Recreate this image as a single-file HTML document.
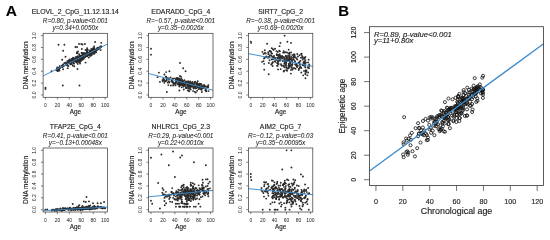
<!DOCTYPE html>
<html><head><meta charset="utf-8"><style>
html,body{margin:0;padding:0;background:#fff;width:550px;height:235px;overflow:hidden;}
svg{display:block;font-family:"Liberation Sans", sans-serif;filter:blur(0.3px);}
</style></head><body>
<svg width="550" height="235" viewBox="0 0 550 235" font-family='"Liberation Sans", sans-serif'><style>text{stroke:#1a1a1a;stroke-width:0.14px;} text.it{stroke-width:0.06px;} text.tk{stroke-width:0px;}</style><text x="75.3" y="13.8" font-size="6.85" text-anchor="middle" fill="#1a1a1a">ELOVL_2_CpG_11.12.13.14</text>
<text x="75.3" y="23.2" class="it" font-size="6.4" font-style="italic" text-anchor="middle" fill="#1a1a1a">R=0.80, p-value&lt;0.001</text>
<text x="75.3" y="30" class="it" font-size="6.4" font-style="italic" text-anchor="middle" fill="#1a1a1a">y=0.34+0.0050x</text>
<clipPath id="c00"><rect x="43.1" y="33.3" width="64.4" height="64"/></clipPath>
<g fill="#2a2a2a" stroke="none" clip-path="url(#c00)">
<circle cx="63.14" cy="69.24" r="0.95"/>
<circle cx="91.68" cy="54.46" r="0.95"/>
<circle cx="87.27" cy="53.39" r="0.95"/>
<circle cx="79.52" cy="55.19" r="0.95"/>
<circle cx="76.13" cy="61.33" r="0.95"/>
<circle cx="60.38" cy="67.67" r="0.95"/>
<circle cx="84.9" cy="54.64" r="0.95"/>
<circle cx="85.03" cy="57.18" r="0.95"/>
<circle cx="79.52" cy="62.02" r="0.95"/>
<circle cx="66.16" cy="64.62" r="0.95"/>
<circle cx="95.63" cy="52.12" r="0.95"/>
<circle cx="62.84" cy="65.84" r="0.95"/>
<circle cx="70.38" cy="63.97" r="0.95"/>
<circle cx="95.87" cy="50.35" r="0.95"/>
<circle cx="82.92" cy="55.6" r="0.95"/>
<circle cx="76.26" cy="60.06" r="0.95"/>
<circle cx="58.96" cy="70.3" r="0.95"/>
<circle cx="87.46" cy="55.75" r="0.95"/>
<circle cx="90.07" cy="53.8" r="0.95"/>
<circle cx="83.1" cy="54.88" r="0.95"/>
<circle cx="78.81" cy="58.42" r="0.95"/>
<circle cx="96.17" cy="52.16" r="0.95"/>
<circle cx="82.59" cy="59.55" r="0.95"/>
<circle cx="91.92" cy="51.92" r="0.95"/>
<circle cx="101.22" cy="42.86" r="0.95"/>
<circle cx="75.42" cy="58.14" r="0.95"/>
<circle cx="74.2" cy="60.53" r="0.95"/>
<circle cx="78.67" cy="58.71" r="0.95"/>
<circle cx="86.9" cy="51.86" r="0.95"/>
<circle cx="68.87" cy="61.88" r="0.95"/>
<circle cx="88.14" cy="53.54" r="0.95"/>
<circle cx="76.04" cy="58.88" r="0.95"/>
<circle cx="68.77" cy="60.5" r="0.95"/>
<circle cx="87.08" cy="53.1" r="0.95"/>
<circle cx="81.64" cy="52.59" r="0.95"/>
<circle cx="80.7" cy="57.43" r="0.95"/>
<circle cx="97.44" cy="48.01" r="0.95"/>
<circle cx="73.93" cy="58.96" r="0.95"/>
<circle cx="82.43" cy="57.34" r="0.95"/>
<circle cx="77.42" cy="61.49" r="0.95"/>
<circle cx="61.59" cy="65.76" r="0.95"/>
<circle cx="91.49" cy="54.47" r="0.95"/>
<circle cx="67.59" cy="63.33" r="0.95"/>
<circle cx="85.25" cy="53.94" r="0.95"/>
<circle cx="80.76" cy="57.35" r="0.95"/>
<circle cx="93.71" cy="48.97" r="0.95"/>
<circle cx="73.46" cy="63.11" r="0.95"/>
<circle cx="75.29" cy="60.81" r="0.95"/>
<circle cx="97.61" cy="48.18" r="0.95"/>
<circle cx="64.31" cy="63.15" r="0.95"/>
<circle cx="66.93" cy="63.9" r="0.95"/>
<circle cx="70.08" cy="63.39" r="0.95"/>
<circle cx="83" cy="54.24" r="0.95"/>
<circle cx="83.75" cy="58.7" r="0.95"/>
<circle cx="65.52" cy="56.81" r="0.95"/>
<circle cx="75.29" cy="59.83" r="0.95"/>
<circle cx="74.45" cy="59.08" r="0.95"/>
<circle cx="97.52" cy="49.74" r="0.95"/>
<circle cx="75.21" cy="60.07" r="0.95"/>
<circle cx="85.34" cy="54.25" r="0.95"/>
<circle cx="75.66" cy="60.65" r="0.95"/>
<circle cx="85.34" cy="53.48" r="0.95"/>
<circle cx="59.31" cy="67.86" r="0.95"/>
<circle cx="63.67" cy="65.58" r="0.95"/>
<circle cx="58.63" cy="68.27" r="0.95"/>
<circle cx="63.16" cy="66.42" r="0.95"/>
<circle cx="72.91" cy="58.5" r="0.95"/>
<circle cx="96.36" cy="50.42" r="0.95"/>
<circle cx="86.57" cy="50.24" r="0.95"/>
<circle cx="72.94" cy="61.76" r="0.95"/>
<circle cx="95.2" cy="51.89" r="0.95"/>
<circle cx="87.8" cy="53.72" r="0.95"/>
<circle cx="79.78" cy="61.99" r="0.95"/>
<circle cx="71.95" cy="60.64" r="0.95"/>
<circle cx="94.28" cy="50.64" r="0.95"/>
<circle cx="57.28" cy="67.53" r="0.95"/>
<circle cx="83.38" cy="56.75" r="0.95"/>
<circle cx="88.92" cy="57.57" r="0.95"/>
<circle cx="80.47" cy="57.53" r="0.95"/>
<circle cx="90.78" cy="52.81" r="0.95"/>
<circle cx="81.05" cy="60.7" r="0.95"/>
<circle cx="77.36" cy="59.97" r="0.95"/>
<circle cx="91.66" cy="50.76" r="0.95"/>
<circle cx="84.31" cy="54.75" r="0.95"/>
<circle cx="93.48" cy="50.67" r="0.95"/>
<circle cx="76.23" cy="59.37" r="0.95"/>
<circle cx="87.99" cy="53.77" r="0.95"/>
<circle cx="69.61" cy="59.43" r="0.95"/>
<circle cx="79.99" cy="58.39" r="0.95"/>
<circle cx="84.87" cy="54.82" r="0.95"/>
<circle cx="68.12" cy="63.43" r="0.95"/>
<circle cx="83.39" cy="57.47" r="0.95"/>
<circle cx="65.82" cy="64.55" r="0.95"/>
<circle cx="88.99" cy="54.82" r="0.95"/>
<circle cx="79.44" cy="60.83" r="0.95"/>
<circle cx="65.25" cy="62.79" r="0.95"/>
<circle cx="84.87" cy="53.16" r="0.95"/>
<circle cx="87.16" cy="56.4" r="0.95"/>
<circle cx="71.87" cy="59.88" r="0.95"/>
<circle cx="84.5" cy="55.66" r="0.95"/>
<circle cx="86.55" cy="53.65" r="0.95"/>
<circle cx="85.65" cy="55.94" r="0.95"/>
<circle cx="70.41" cy="61.11" r="0.95"/>
<circle cx="92.45" cy="51.36" r="0.95"/>
<circle cx="92.99" cy="48.26" r="0.95"/>
<circle cx="76.82" cy="57.89" r="0.95"/>
<circle cx="87.83" cy="52.83" r="0.95"/>
<circle cx="85" cy="55.01" r="0.95"/>
<circle cx="97.76" cy="49.36" r="0.95"/>
<circle cx="86.59" cy="50.52" r="0.95"/>
<circle cx="94.17" cy="46.45" r="0.95"/>
<circle cx="79.09" cy="60.86" r="0.95"/>
<circle cx="77.04" cy="56.83" r="0.95"/>
<circle cx="56.87" cy="68.67" r="0.95"/>
<circle cx="77.46" cy="69.05" r="0.95"/>
<circle cx="75.39" cy="61.12" r="0.95"/>
<circle cx="93.09" cy="52.27" r="0.95"/>
<circle cx="67.78" cy="63.09" r="0.95"/>
<circle cx="67.26" cy="62.95" r="0.95"/>
<circle cx="72.59" cy="61.53" r="0.95"/>
<circle cx="75.46" cy="59.93" r="0.95"/>
<circle cx="98" cy="48.37" r="0.95"/>
<circle cx="73.15" cy="59.92" r="0.95"/>
<circle cx="85.72" cy="55.7" r="0.95"/>
<circle cx="91.01" cy="52.91" r="0.95"/>
<circle cx="78.53" cy="61.07" r="0.95"/>
<circle cx="91.34" cy="54.13" r="0.95"/>
<circle cx="56.4" cy="70.27" r="0.95"/>
<circle cx="84.03" cy="57.64" r="0.95"/>
<circle cx="77.96" cy="57.47" r="0.95"/>
<circle cx="76.6" cy="60.07" r="0.95"/>
<circle cx="80.66" cy="60.67" r="0.95"/>
<circle cx="83.84" cy="54.24" r="0.95"/>
<circle cx="79.46" cy="57.26" r="0.95"/>
<circle cx="68.93" cy="60.71" r="0.95"/>
<circle cx="73.11" cy="57.8" r="0.95"/>
<circle cx="82.57" cy="57.73" r="0.95"/>
<circle cx="73.05" cy="59.92" r="0.95"/>
<circle cx="86.78" cy="55.89" r="0.95"/>
<circle cx="80.06" cy="63.53" r="0.95"/>
<circle cx="75.09" cy="61.18" r="0.95"/>
<circle cx="94.27" cy="53.71" r="0.95"/>
<circle cx="78.73" cy="59.75" r="0.95"/>
<circle cx="82.45" cy="57.75" r="0.95"/>
<circle cx="92.96" cy="49.38" r="0.95"/>
<circle cx="85.62" cy="62.62" r="0.95"/>
<circle cx="86.05" cy="54.73" r="0.95"/>
<circle cx="67.27" cy="61.28" r="0.95"/>
<circle cx="86.96" cy="51.43" r="0.95"/>
<circle cx="86.63" cy="50.8" r="0.95"/>
<circle cx="80.35" cy="56.42" r="0.95"/>
<circle cx="93.05" cy="53.86" r="0.95"/>
<circle cx="95.61" cy="52.45" r="0.95"/>
<circle cx="99.95" cy="47.7" r="0.95"/>
<circle cx="59.63" cy="66.27" r="0.95"/>
<circle cx="84.93" cy="54.97" r="0.95"/>
<circle cx="76.03" cy="58.76" r="0.95"/>
<circle cx="80.33" cy="58.44" r="0.95"/>
<circle cx="89.38" cy="52.66" r="0.95"/>
<circle cx="81.66" cy="56.69" r="0.95"/>
<circle cx="87.39" cy="54.57" r="0.95"/>
<circle cx="71.44" cy="58.89" r="0.95"/>
<circle cx="80.23" cy="55.93" r="0.95"/>
<circle cx="82.83" cy="58.89" r="0.95"/>
<circle cx="86.64" cy="55.4" r="0.95"/>
<circle cx="58.04" cy="70.47" r="0.95"/>
<circle cx="82.41" cy="57.66" r="0.95"/>
<circle cx="62.17" cy="67.15" r="0.95"/>
<circle cx="95.22" cy="50.22" r="0.95"/>
<circle cx="63.08" cy="66.06" r="0.95"/>
<circle cx="75.48" cy="57.17" r="0.95"/>
<circle cx="82.02" cy="56.06" r="0.95"/>
<circle cx="87.82" cy="49.8" r="0.95"/>
<circle cx="79.86" cy="59.65" r="0.95"/>
<circle cx="99.3" cy="48.01" r="0.95"/>
<circle cx="84.09" cy="53.45" r="0.95"/>
<circle cx="79.98" cy="56.44" r="0.95"/>
<circle cx="95.83" cy="49.69" r="0.95"/>
<circle cx="77.82" cy="63.9" r="0.95"/>
<circle cx="91.39" cy="55.41" r="0.95"/>
<circle cx="62.15" cy="59.73" r="0.95"/>
<circle cx="83.32" cy="53.39" r="0.95"/>
<circle cx="58.53" cy="68.67" r="0.95"/>
<circle cx="70.54" cy="60.57" r="0.95"/>
<circle cx="91.09" cy="52.65" r="0.95"/>
<circle cx="79.18" cy="56.74" r="0.95"/>
<circle cx="72.15" cy="59.13" r="0.95"/>
<circle cx="67.72" cy="68.16" r="0.95"/>
<circle cx="89.88" cy="50.61" r="0.95"/>
<circle cx="86.77" cy="55.07" r="0.95"/>
<circle cx="78.02" cy="51.38" r="0.95"/>
<circle cx="94.3" cy="49.76" r="0.95"/>
<circle cx="91.93" cy="52.59" r="0.95"/>
<circle cx="86.98" cy="54.66" r="0.95"/>
<circle cx="76.37" cy="59.29" r="0.95"/>
<circle cx="90.11" cy="50.43" r="0.95"/>
<circle cx="82.27" cy="57.84" r="0.95"/>
<circle cx="77.87" cy="58.8" r="0.95"/>
<circle cx="58.72" cy="69.36" r="0.95"/>
<circle cx="59.47" cy="70.43" r="0.95"/>
<circle cx="77.1" cy="56.58" r="0.95"/>
<circle cx="63.71" cy="65.4" r="0.95"/>
<circle cx="94.85" cy="51.11" r="0.95"/>
<circle cx="80.03" cy="60.41" r="0.95"/>
<circle cx="69.67" cy="61.1" r="0.95"/>
<circle cx="77.51" cy="60.65" r="0.95"/>
<circle cx="76.69" cy="60.36" r="0.95"/>
<circle cx="100.38" cy="46.5" r="0.95"/>
<circle cx="77.5" cy="53.04" r="0.95"/>
<circle cx="81.36" cy="57.31" r="0.95"/>
<circle cx="72.59" cy="59.07" r="0.95"/>
<circle cx="73.74" cy="61.83" r="0.95"/>
<circle cx="77.86" cy="62.07" r="0.95"/>
<circle cx="82.96" cy="53.06" r="0.95"/>
<circle cx="68.35" cy="61.73" r="0.95"/>
<circle cx="74.56" cy="59.88" r="0.95"/>
<circle cx="57.25" cy="69.81" r="0.95"/>
<circle cx="66.91" cy="64.31" r="0.95"/>
<circle cx="70.35" cy="62.7" r="0.95"/>
<circle cx="80.7" cy="59.43" r="0.95"/>
<circle cx="88.64" cy="52.65" r="0.95"/>
<circle cx="101.43" cy="46.57" r="0.95"/>
<circle cx="89.47" cy="50.84" r="0.95"/>
<circle cx="77.75" cy="56.19" r="0.95"/>
<circle cx="94.57" cy="51.89" r="0.95"/>
<circle cx="74.26" cy="66.2" r="0.95"/>
<circle cx="74" cy="63.65" r="0.95"/>
<circle cx="80.27" cy="57.82" r="0.95"/>
<circle cx="90.18" cy="52.6" r="0.95"/>
<circle cx="70.99" cy="63.91" r="0.95"/>
<circle cx="92.24" cy="49.78" r="0.95"/>
<circle cx="75.73" cy="60.19" r="0.95"/>
<circle cx="57.65" cy="70.37" r="0.95"/>
<circle cx="72.78" cy="65.67" r="0.95"/>
<circle cx="94.6" cy="51.03" r="0.95"/>
<circle cx="75.5" cy="60.05" r="0.95"/>
<circle cx="75.23" cy="60.57" r="0.95"/>
<circle cx="96.91" cy="48.78" r="0.95"/>
<circle cx="83.34" cy="55.34" r="0.95"/>
<circle cx="71.95" cy="63.98" r="0.95"/>
<circle cx="90.05" cy="55.47" r="0.95"/>
<circle cx="59.64" cy="68.22" r="0.95"/>
<circle cx="89.71" cy="52.57" r="0.95"/>
<circle cx="90.19" cy="52.91" r="0.95"/>
<circle cx="80.56" cy="57.85" r="0.95"/>
<circle cx="76.5" cy="62.52" r="0.95"/>
<circle cx="89.01" cy="52.82" r="0.95"/>
<circle cx="74.8" cy="59.49" r="0.95"/>
<circle cx="62.99" cy="64.53" r="0.95"/>
<circle cx="90.34" cy="52.79" r="0.95"/>
<circle cx="82.29" cy="59.53" r="0.95"/>
<circle cx="59" cy="68.59" r="0.95"/>
<circle cx="87.07" cy="52.17" r="0.95"/>
<circle cx="75.59" cy="61.5" r="0.95"/>
<circle cx="80.68" cy="57.79" r="0.95"/>
<circle cx="92.09" cy="51.17" r="0.95"/>
<circle cx="95.12" cy="42.05" r="0.95"/>
<circle cx="101.13" cy="47.17" r="0.95"/>
<circle cx="94.17" cy="47.96" r="0.95"/>
<circle cx="77.29" cy="60.97" r="0.95"/>
<circle cx="91.35" cy="49.04" r="0.95"/>
<circle cx="65.85" cy="62.86" r="0.95"/>
<circle cx="81.37" cy="58.63" r="0.95"/>
<circle cx="82.92" cy="54.49" r="0.95"/>
<circle cx="80.28" cy="58.05" r="0.95"/>
<circle cx="92.71" cy="50.42" r="0.95"/>
<circle cx="93.68" cy="52.62" r="0.95"/>
<circle cx="81.43" cy="57.65" r="0.95"/>
<circle cx="77.67" cy="57.94" r="0.95"/>
<circle cx="83.7" cy="54.12" r="0.95"/>
<circle cx="83.15" cy="57.59" r="0.95"/>
<circle cx="81.68" cy="53.65" r="0.95"/>
<circle cx="70.73" cy="64.18" r="0.95"/>
<circle cx="87.1" cy="48.25" r="0.95"/>
<circle cx="90.69" cy="51.91" r="0.95"/>
<circle cx="95.96" cy="50.05" r="0.95"/>
<circle cx="95.18" cy="51.04" r="0.95"/>
<circle cx="81.2" cy="55.98" r="0.95"/>
<circle cx="90.3" cy="55.81" r="0.95"/>
<circle cx="76.84" cy="53.29" r="0.95"/>
<circle cx="79.15" cy="61.26" r="0.95"/>
<circle cx="58.43" cy="68.09" r="0.95"/>
<circle cx="94.54" cy="48.76" r="0.95"/>
<circle cx="99.18" cy="47.44" r="0.95"/>
<circle cx="68.42" cy="66.01" r="0.95"/>
<circle cx="85.82" cy="55.23" r="0.95"/>
<circle cx="90.02" cy="51.1" r="0.95"/>
<circle cx="87.21" cy="53.91" r="0.95"/>
<circle cx="72.93" cy="59.95" r="0.95"/>
<circle cx="71.28" cy="62.4" r="0.95"/>
<circle cx="89.84" cy="51.59" r="0.95"/>
<circle cx="79.29" cy="60.25" r="0.95"/>
<circle cx="79.13" cy="54.22" r="0.95"/>
<circle cx="98.77" cy="48.93" r="0.95"/>
<circle cx="77.9" cy="59.27" r="0.95"/>
<circle cx="69.89" cy="62.71" r="0.95"/>
<circle cx="78.03" cy="60.53" r="0.95"/>
<circle cx="82.33" cy="56.03" r="0.95"/>
<circle cx="81.81" cy="48.95" r="0.95"/>
<circle cx="94.35" cy="50.75" r="0.95"/>
<circle cx="63.64" cy="65.98" r="0.95"/>
<circle cx="97.82" cy="48.91" r="0.95"/>
<circle cx="86.21" cy="54.86" r="0.95"/>
<circle cx="99.62" cy="47.85" r="0.95"/>
<circle cx="86.29" cy="55.89" r="0.95"/>
<circle cx="71.92" cy="61.26" r="0.95"/>
<circle cx="67.2" cy="65.49" r="0.95"/>
<circle cx="82.37" cy="56.14" r="0.95"/>
<circle cx="86.95" cy="51.79" r="0.95"/>
<circle cx="76.21" cy="60.92" r="0.95"/>
<circle cx="87.23" cy="54.89" r="0.95"/>
<circle cx="81.59" cy="56.56" r="0.95"/>
<circle cx="100.65" cy="50.1" r="0.95"/>
<circle cx="79.33" cy="61.21" r="0.95"/>
<circle cx="85.41" cy="49.87" r="0.95"/>
<circle cx="84.36" cy="54.57" r="0.95"/>
<circle cx="74.57" cy="60.43" r="0.95"/>
<circle cx="89.08" cy="55.15" r="0.95"/>
<circle cx="92.2" cy="51.88" r="0.95"/>
<circle cx="57.7" cy="71.13" r="0.95"/>
<circle cx="45.49" cy="87.82" r="0.95"/>
<circle cx="45.49" cy="89" r="0.95"/>
<circle cx="62.78" cy="85.45" r="0.95"/>
<circle cx="79.47" cy="85.45" r="0.95"/>
<circle cx="58.48" cy="44.68" r="0.95"/>
<circle cx="64.39" cy="44.68" r="0.95"/>
<circle cx="63.14" cy="50.78" r="0.95"/>
<circle cx="75.42" cy="46.93" r="0.95"/>
<circle cx="77.03" cy="46.93" r="0.95"/>
<circle cx="77.03" cy="52.26" r="0.95"/>
<circle cx="79" cy="43.97" r="0.95"/>
<circle cx="51.45" cy="71.23" r="0.95"/>
<circle cx="81.26" cy="43.97" r="0.95"/>
<circle cx="82.46" cy="44.56" r="0.95"/>
<circle cx="84.84" cy="43.97" r="0.95"/>
</g>
<line x1="43.1" y1="75.97" x2="107.5" y2="43.97" stroke="#3b8bcc" stroke-width="0.95" clip-path="url(#c00)"/>
<rect x="43.1" y="33.3" width="64.4" height="64" fill="none" stroke="#333" stroke-width="0.7"/>
<line x1="40.9" y1="94.93" x2="43.1" y2="94.93" stroke="#333" stroke-width="0.6"/>
<text transform="translate(36.4,94.93) rotate(-90)" class="tk" font-size="5.0" text-anchor="middle" fill="#1a1a1a">0.0</text>
<line x1="40.9" y1="83.08" x2="43.1" y2="83.08" stroke="#333" stroke-width="0.6"/>
<text transform="translate(36.4,83.08) rotate(-90)" class="tk" font-size="5.0" text-anchor="middle" fill="#1a1a1a">0.2</text>
<line x1="40.9" y1="71.23" x2="43.1" y2="71.23" stroke="#333" stroke-width="0.6"/>
<text transform="translate(36.4,71.23) rotate(-90)" class="tk" font-size="5.0" text-anchor="middle" fill="#1a1a1a">0.4</text>
<line x1="40.9" y1="59.37" x2="43.1" y2="59.37" stroke="#333" stroke-width="0.6"/>
<text transform="translate(36.4,59.37) rotate(-90)" class="tk" font-size="5.0" text-anchor="middle" fill="#1a1a1a">0.6</text>
<line x1="40.9" y1="47.52" x2="43.1" y2="47.52" stroke="#333" stroke-width="0.6"/>
<text transform="translate(36.4,47.52) rotate(-90)" class="tk" font-size="5.0" text-anchor="middle" fill="#1a1a1a">0.8</text>
<line x1="40.9" y1="35.67" x2="43.1" y2="35.67" stroke="#333" stroke-width="0.6"/>
<text transform="translate(36.4,35.67) rotate(-90)" class="tk" font-size="5.0" text-anchor="middle" fill="#1a1a1a">1.0</text>
<line x1="45.49" y1="97.3" x2="45.49" y2="99.5" stroke="#333" stroke-width="0.6"/>
<text x="45.49" y="107.3" class="tk" font-size="5.0" text-anchor="middle" fill="#1a1a1a">0</text>
<line x1="57.41" y1="97.3" x2="57.41" y2="99.5" stroke="#333" stroke-width="0.6"/>
<text x="57.41" y="107.3" class="tk" font-size="5.0" text-anchor="middle" fill="#1a1a1a">20</text>
<line x1="69.34" y1="97.3" x2="69.34" y2="99.5" stroke="#333" stroke-width="0.6"/>
<text x="69.34" y="107.3" class="tk" font-size="5.0" text-anchor="middle" fill="#1a1a1a">40</text>
<line x1="81.26" y1="97.3" x2="81.26" y2="99.5" stroke="#333" stroke-width="0.6"/>
<text x="81.26" y="107.3" class="tk" font-size="5.0" text-anchor="middle" fill="#1a1a1a">60</text>
<line x1="93.19" y1="97.3" x2="93.19" y2="99.5" stroke="#333" stroke-width="0.6"/>
<text x="93.19" y="107.3" class="tk" font-size="5.0" text-anchor="middle" fill="#1a1a1a">80</text>
<line x1="105.11" y1="97.3" x2="105.11" y2="99.5" stroke="#333" stroke-width="0.6"/>
<text x="105.11" y="107.3" class="tk" font-size="5.0" text-anchor="middle" fill="#1a1a1a">100</text>
<text x="75.3" y="114.2" font-size="6.3" text-anchor="middle" fill="#1a1a1a">Age</text>
<text transform="translate(28.4,65.3) rotate(-90)" font-size="6.45" text-anchor="middle" fill="#1a1a1a">DNA methylation</text>
<text x="180.8" y="13.8" font-size="6.85" text-anchor="middle" fill="#1a1a1a">EDARADD_CpG_4</text>
<text x="180.8" y="23.2" class="it" font-size="6.4" font-style="italic" text-anchor="middle" fill="#1a1a1a">R=−0.57, p-value&lt;0.001</text>
<text x="180.8" y="30" class="it" font-size="6.4" font-style="italic" text-anchor="middle" fill="#1a1a1a">y=0.35−0.0026x</text>
<clipPath id="c10"><rect x="148.6" y="33.3" width="64.4" height="64"/></clipPath>
<g fill="#2a2a2a" stroke="none" clip-path="url(#c10)">
<circle cx="190.46" cy="84.24" r="0.95"/>
<circle cx="175.92" cy="79.75" r="0.95"/>
<circle cx="185.67" cy="82.12" r="0.95"/>
<circle cx="182.87" cy="83.74" r="0.95"/>
<circle cx="183.48" cy="82.77" r="0.95"/>
<circle cx="188.42" cy="81.95" r="0.95"/>
<circle cx="172.34" cy="78.71" r="0.95"/>
<circle cx="190.12" cy="81.49" r="0.95"/>
<circle cx="173.9" cy="83.92" r="0.95"/>
<circle cx="207.05" cy="87.01" r="0.95"/>
<circle cx="199.16" cy="84.26" r="0.95"/>
<circle cx="179.09" cy="83.88" r="0.95"/>
<circle cx="184.37" cy="85.68" r="0.95"/>
<circle cx="189.25" cy="85.32" r="0.95"/>
<circle cx="162.76" cy="81.19" r="0.95"/>
<circle cx="195.37" cy="87.01" r="0.95"/>
<circle cx="178.24" cy="84.47" r="0.95"/>
<circle cx="198.46" cy="86.96" r="0.95"/>
<circle cx="189.22" cy="91.27" r="0.95"/>
<circle cx="183.1" cy="82.09" r="0.95"/>
<circle cx="188.36" cy="83.24" r="0.95"/>
<circle cx="196.39" cy="84.19" r="0.95"/>
<circle cx="194.32" cy="85.26" r="0.95"/>
<circle cx="205.54" cy="86.35" r="0.95"/>
<circle cx="180.03" cy="85.53" r="0.95"/>
<circle cx="173.55" cy="84.94" r="0.95"/>
<circle cx="196.74" cy="84.82" r="0.95"/>
<circle cx="194.43" cy="82.16" r="0.95"/>
<circle cx="186.29" cy="87.71" r="0.95"/>
<circle cx="208.37" cy="85.1" r="0.95"/>
<circle cx="197.13" cy="90.82" r="0.95"/>
<circle cx="180.15" cy="79.73" r="0.95"/>
<circle cx="179.31" cy="80.08" r="0.95"/>
<circle cx="190.15" cy="84.94" r="0.95"/>
<circle cx="201.51" cy="88.2" r="0.95"/>
<circle cx="197.9" cy="86.54" r="0.95"/>
<circle cx="170.82" cy="85.55" r="0.95"/>
<circle cx="177.57" cy="78.32" r="0.95"/>
<circle cx="183.77" cy="84.49" r="0.95"/>
<circle cx="198.46" cy="86.91" r="0.95"/>
<circle cx="190.75" cy="89.51" r="0.95"/>
<circle cx="192.44" cy="81.93" r="0.95"/>
<circle cx="189.7" cy="83.62" r="0.95"/>
<circle cx="181.9" cy="82.18" r="0.95"/>
<circle cx="168.91" cy="81.26" r="0.95"/>
<circle cx="200.72" cy="89.23" r="0.95"/>
<circle cx="181.75" cy="87.37" r="0.95"/>
<circle cx="197.08" cy="83" r="0.95"/>
<circle cx="190.37" cy="85.62" r="0.95"/>
<circle cx="180.2" cy="80.88" r="0.95"/>
<circle cx="196.63" cy="85.41" r="0.95"/>
<circle cx="203.11" cy="87.99" r="0.95"/>
<circle cx="190.89" cy="83.89" r="0.95"/>
<circle cx="202.01" cy="87.16" r="0.95"/>
<circle cx="203.3" cy="85.79" r="0.95"/>
<circle cx="185.74" cy="82.03" r="0.95"/>
<circle cx="189.74" cy="85.72" r="0.95"/>
<circle cx="169.47" cy="78.91" r="0.95"/>
<circle cx="177.44" cy="80.04" r="0.95"/>
<circle cx="179.36" cy="86.62" r="0.95"/>
<circle cx="165.27" cy="81.19" r="0.95"/>
<circle cx="178.95" cy="84.86" r="0.95"/>
<circle cx="199.81" cy="88.39" r="0.95"/>
<circle cx="193.3" cy="84.09" r="0.95"/>
<circle cx="183.83" cy="82.39" r="0.95"/>
<circle cx="181.54" cy="81.44" r="0.95"/>
<circle cx="184.38" cy="83.08" r="0.95"/>
<circle cx="182.75" cy="84.56" r="0.95"/>
<circle cx="188.25" cy="84.19" r="0.95"/>
<circle cx="192.62" cy="86.36" r="0.95"/>
<circle cx="167.73" cy="78.57" r="0.95"/>
<circle cx="179.93" cy="76" r="0.95"/>
<circle cx="164.06" cy="80.09" r="0.95"/>
<circle cx="200.44" cy="83.95" r="0.95"/>
<circle cx="197.64" cy="87.09" r="0.95"/>
<circle cx="182.07" cy="84.74" r="0.95"/>
<circle cx="199.42" cy="86.16" r="0.95"/>
<circle cx="197.65" cy="81.21" r="0.95"/>
<circle cx="181.58" cy="84.88" r="0.95"/>
<circle cx="194.42" cy="86.82" r="0.95"/>
<circle cx="195.17" cy="87.41" r="0.95"/>
<circle cx="176.72" cy="78.24" r="0.95"/>
<circle cx="193" cy="84.8" r="0.95"/>
<circle cx="188.82" cy="83.34" r="0.95"/>
<circle cx="166.06" cy="77.04" r="0.95"/>
<circle cx="207.92" cy="86.43" r="0.95"/>
<circle cx="170.47" cy="77.4" r="0.95"/>
<circle cx="162.45" cy="80.13" r="0.95"/>
<circle cx="208.2" cy="87.18" r="0.95"/>
<circle cx="167.79" cy="82.53" r="0.95"/>
<circle cx="189.44" cy="82.59" r="0.95"/>
<circle cx="184.23" cy="83.71" r="0.95"/>
<circle cx="171.96" cy="80.64" r="0.95"/>
<circle cx="183.42" cy="82.02" r="0.95"/>
<circle cx="189.39" cy="88.14" r="0.95"/>
<circle cx="188.06" cy="87.31" r="0.95"/>
<circle cx="182.35" cy="83.29" r="0.95"/>
<circle cx="179.72" cy="83.71" r="0.95"/>
<circle cx="182.39" cy="83.87" r="0.95"/>
<circle cx="183.77" cy="89.54" r="0.95"/>
<circle cx="178.66" cy="78.82" r="0.95"/>
<circle cx="198.68" cy="89.14" r="0.95"/>
<circle cx="179.2" cy="82.19" r="0.95"/>
<circle cx="177.36" cy="77.99" r="0.95"/>
<circle cx="190.04" cy="88.84" r="0.95"/>
<circle cx="179.46" cy="83.54" r="0.95"/>
<circle cx="177.56" cy="79.02" r="0.95"/>
<circle cx="174.34" cy="83.14" r="0.95"/>
<circle cx="199.09" cy="84.55" r="0.95"/>
<circle cx="202.69" cy="86.26" r="0.95"/>
<circle cx="193.97" cy="86.5" r="0.95"/>
<circle cx="179.81" cy="84.9" r="0.95"/>
<circle cx="189.1" cy="85.58" r="0.95"/>
<circle cx="183.03" cy="85.58" r="0.95"/>
<circle cx="197.1" cy="83.96" r="0.95"/>
<circle cx="179.01" cy="78.47" r="0.95"/>
<circle cx="201.81" cy="92.05" r="0.95"/>
<circle cx="176.84" cy="81.98" r="0.95"/>
<circle cx="187.74" cy="85.23" r="0.95"/>
<circle cx="188.94" cy="85.59" r="0.95"/>
<circle cx="173.32" cy="78.64" r="0.95"/>
<circle cx="183.41" cy="84.8" r="0.95"/>
<circle cx="189.85" cy="86.47" r="0.95"/>
<circle cx="192.7" cy="83.93" r="0.95"/>
<circle cx="204.16" cy="87.45" r="0.95"/>
<circle cx="201.41" cy="84.18" r="0.95"/>
<circle cx="207.11" cy="86.53" r="0.95"/>
<circle cx="208.57" cy="91.12" r="0.95"/>
<circle cx="187.98" cy="83.04" r="0.95"/>
<circle cx="175.92" cy="80.98" r="0.95"/>
<circle cx="187.47" cy="83.42" r="0.95"/>
<circle cx="165.95" cy="76.53" r="0.95"/>
<circle cx="199.61" cy="83.76" r="0.95"/>
<circle cx="206.25" cy="91.23" r="0.95"/>
<circle cx="164.51" cy="80.19" r="0.95"/>
<circle cx="187.31" cy="83.92" r="0.95"/>
<circle cx="164.35" cy="74.46" r="0.95"/>
<circle cx="184.58" cy="84.65" r="0.95"/>
<circle cx="166.68" cy="80.78" r="0.95"/>
<circle cx="179.38" cy="90.48" r="0.95"/>
<circle cx="204.79" cy="86.09" r="0.95"/>
<circle cx="199.35" cy="86.71" r="0.95"/>
<circle cx="205.72" cy="89.2" r="0.95"/>
<circle cx="174.96" cy="78.34" r="0.95"/>
<circle cx="182.98" cy="80.84" r="0.95"/>
<circle cx="181.34" cy="80.23" r="0.95"/>
<circle cx="188.46" cy="85.36" r="0.95"/>
<circle cx="182.98" cy="83.38" r="0.95"/>
<circle cx="182.2" cy="84.16" r="0.95"/>
<circle cx="190.51" cy="81.84" r="0.95"/>
<circle cx="184.85" cy="83.58" r="0.95"/>
<circle cx="176.21" cy="82.83" r="0.95"/>
<circle cx="205.3" cy="90.36" r="0.95"/>
<circle cx="182.12" cy="81.22" r="0.95"/>
<circle cx="195.54" cy="88.2" r="0.95"/>
<circle cx="186.24" cy="82.23" r="0.95"/>
<circle cx="182.2" cy="79.94" r="0.95"/>
<circle cx="188.29" cy="86.44" r="0.95"/>
<circle cx="188.35" cy="88.59" r="0.95"/>
<circle cx="172" cy="81.79" r="0.95"/>
<circle cx="188.59" cy="90.37" r="0.95"/>
<circle cx="193.1" cy="87.03" r="0.95"/>
<circle cx="190.01" cy="85.57" r="0.95"/>
<circle cx="195.06" cy="81.82" r="0.95"/>
<circle cx="184.37" cy="80.27" r="0.95"/>
<circle cx="178.51" cy="81.72" r="0.95"/>
<circle cx="201.38" cy="84.75" r="0.95"/>
<circle cx="188.32" cy="84.2" r="0.95"/>
<circle cx="183.51" cy="83.06" r="0.95"/>
<circle cx="163.45" cy="78.44" r="0.95"/>
<circle cx="178.5" cy="79.85" r="0.95"/>
<circle cx="178.86" cy="83.66" r="0.95"/>
<circle cx="198.42" cy="85.68" r="0.95"/>
<circle cx="179.89" cy="84.49" r="0.95"/>
<circle cx="185.9" cy="88.09" r="0.95"/>
<circle cx="173.19" cy="82.87" r="0.95"/>
<circle cx="166.56" cy="79.11" r="0.95"/>
<circle cx="203.34" cy="87.36" r="0.95"/>
<circle cx="179.08" cy="83.34" r="0.95"/>
<circle cx="172.95" cy="82.53" r="0.95"/>
<circle cx="190.62" cy="87.17" r="0.95"/>
<circle cx="189.32" cy="83.44" r="0.95"/>
<circle cx="180.83" cy="85.04" r="0.95"/>
<circle cx="168.65" cy="78.78" r="0.95"/>
<circle cx="199.73" cy="85.87" r="0.95"/>
<circle cx="189.33" cy="85.37" r="0.95"/>
<circle cx="179.34" cy="83.16" r="0.95"/>
<circle cx="183.41" cy="86.64" r="0.95"/>
<circle cx="201.05" cy="86.48" r="0.95"/>
<circle cx="179.96" cy="79.8" r="0.95"/>
<circle cx="185.67" cy="83.93" r="0.95"/>
<circle cx="166.85" cy="92.07" r="0.95"/>
<circle cx="194.79" cy="82.79" r="0.95"/>
<circle cx="198.3" cy="87.46" r="0.95"/>
<circle cx="183.82" cy="85.34" r="0.95"/>
<circle cx="191.09" cy="85.36" r="0.95"/>
<circle cx="177.04" cy="79.26" r="0.95"/>
<circle cx="198.07" cy="85.89" r="0.95"/>
<circle cx="196.11" cy="86.15" r="0.95"/>
<circle cx="204.18" cy="84.88" r="0.95"/>
<circle cx="193.6" cy="88.56" r="0.95"/>
<circle cx="185.9" cy="85.35" r="0.95"/>
<circle cx="194.08" cy="84.25" r="0.95"/>
<circle cx="178.27" cy="79.25" r="0.95"/>
<circle cx="194.84" cy="87.22" r="0.95"/>
<circle cx="200.29" cy="87.14" r="0.95"/>
<circle cx="185.86" cy="86.9" r="0.95"/>
<circle cx="195.38" cy="88.27" r="0.95"/>
<circle cx="187.94" cy="85.82" r="0.95"/>
<circle cx="175.64" cy="85.19" r="0.95"/>
<circle cx="180.9" cy="76.75" r="0.95"/>
<circle cx="179.99" cy="82.85" r="0.95"/>
<circle cx="186.26" cy="82.43" r="0.95"/>
<circle cx="181.35" cy="78.4" r="0.95"/>
<circle cx="197.06" cy="86.09" r="0.95"/>
<circle cx="175.42" cy="83.84" r="0.95"/>
<circle cx="179.91" cy="83.74" r="0.95"/>
<circle cx="188.49" cy="85.74" r="0.95"/>
<circle cx="166.54" cy="78.31" r="0.95"/>
<circle cx="191.93" cy="83.29" r="0.95"/>
<circle cx="182.49" cy="84.24" r="0.95"/>
<circle cx="183.27" cy="82.27" r="0.95"/>
<circle cx="182.45" cy="82.69" r="0.95"/>
<circle cx="201.74" cy="89.79" r="0.95"/>
<circle cx="187.98" cy="81.3" r="0.95"/>
<circle cx="179.52" cy="80.34" r="0.95"/>
<circle cx="197.81" cy="85.33" r="0.95"/>
<circle cx="171.34" cy="81.22" r="0.95"/>
<circle cx="196.13" cy="85.61" r="0.95"/>
<circle cx="205.7" cy="88.5" r="0.95"/>
<circle cx="177.69" cy="84.05" r="0.95"/>
<circle cx="186.58" cy="88.01" r="0.95"/>
<circle cx="206.37" cy="91.01" r="0.95"/>
<circle cx="175.88" cy="82.72" r="0.95"/>
<circle cx="187.89" cy="90.55" r="0.95"/>
<circle cx="196.04" cy="83.02" r="0.95"/>
<circle cx="168.33" cy="85.1" r="0.95"/>
<circle cx="203.43" cy="86.46" r="0.95"/>
<circle cx="185.85" cy="81.36" r="0.95"/>
<circle cx="182.16" cy="81.9" r="0.95"/>
<circle cx="191.45" cy="85.96" r="0.95"/>
<circle cx="189.96" cy="86.33" r="0.95"/>
<circle cx="196.46" cy="88.14" r="0.95"/>
<circle cx="191.7" cy="82.95" r="0.95"/>
<circle cx="190.21" cy="83.43" r="0.95"/>
<circle cx="180.45" cy="84.41" r="0.95"/>
<circle cx="188.81" cy="82.28" r="0.95"/>
<circle cx="202.76" cy="87.82" r="0.95"/>
<circle cx="188.78" cy="84.57" r="0.95"/>
<circle cx="186.14" cy="83.34" r="0.95"/>
<circle cx="172.57" cy="81.51" r="0.95"/>
<circle cx="191.72" cy="85.75" r="0.95"/>
<circle cx="176.46" cy="81.29" r="0.95"/>
<circle cx="199.46" cy="86.68" r="0.95"/>
<circle cx="164.69" cy="80.9" r="0.95"/>
<circle cx="164.29" cy="82.86" r="0.95"/>
<circle cx="182.43" cy="84.16" r="0.95"/>
<circle cx="169.23" cy="82.48" r="0.95"/>
<circle cx="190.81" cy="86.33" r="0.95"/>
<circle cx="173.59" cy="82.61" r="0.95"/>
<circle cx="173.16" cy="85.47" r="0.95"/>
<circle cx="181.2" cy="82.23" r="0.95"/>
<circle cx="195.79" cy="92.52" r="0.95"/>
<circle cx="193.1" cy="91.1" r="0.95"/>
<circle cx="188.78" cy="85.49" r="0.95"/>
<circle cx="194.77" cy="91.84" r="0.95"/>
<circle cx="200.62" cy="86.49" r="0.95"/>
<circle cx="192.99" cy="83.8" r="0.95"/>
<circle cx="185.31" cy="84.09" r="0.95"/>
<circle cx="167.84" cy="78.31" r="0.95"/>
<circle cx="187.86" cy="84.09" r="0.95"/>
<circle cx="191.01" cy="86.52" r="0.95"/>
<circle cx="198.62" cy="87.13" r="0.95"/>
<circle cx="185.5" cy="83.14" r="0.95"/>
<circle cx="197.03" cy="85.11" r="0.95"/>
<circle cx="183.72" cy="83.36" r="0.95"/>
<circle cx="197.76" cy="85.96" r="0.95"/>
<circle cx="197.83" cy="83.69" r="0.95"/>
<circle cx="163.07" cy="79.86" r="0.95"/>
<circle cx="180.09" cy="82.11" r="0.95"/>
<circle cx="150.99" cy="48.71" r="0.95"/>
<circle cx="150.99" cy="54.63" r="0.95"/>
<circle cx="180.02" cy="62.93" r="0.95"/>
<circle cx="183.19" cy="68.26" r="0.95"/>
<circle cx="185.57" cy="71.23" r="0.95"/>
<circle cx="158.92" cy="72.59" r="0.95"/>
<circle cx="166.19" cy="72.11" r="0.95"/>
<circle cx="169.41" cy="71.23" r="0.95"/>
<circle cx="157.54" cy="77.15" r="0.95"/>
<circle cx="159.93" cy="81.89" r="0.95"/>
</g>
<line x1="148.6" y1="73.57" x2="213" y2="90.21" stroke="#3b8bcc" stroke-width="0.95" clip-path="url(#c10)"/>
<rect x="148.6" y="33.3" width="64.4" height="64" fill="none" stroke="#333" stroke-width="0.7"/>
<line x1="146.4" y1="94.93" x2="148.6" y2="94.93" stroke="#333" stroke-width="0.6"/>
<text transform="translate(141.9,94.93) rotate(-90)" class="tk" font-size="5.0" text-anchor="middle" fill="#1a1a1a">0.0</text>
<line x1="146.4" y1="83.08" x2="148.6" y2="83.08" stroke="#333" stroke-width="0.6"/>
<text transform="translate(141.9,83.08) rotate(-90)" class="tk" font-size="5.0" text-anchor="middle" fill="#1a1a1a">0.2</text>
<line x1="146.4" y1="71.23" x2="148.6" y2="71.23" stroke="#333" stroke-width="0.6"/>
<text transform="translate(141.9,71.23) rotate(-90)" class="tk" font-size="5.0" text-anchor="middle" fill="#1a1a1a">0.4</text>
<line x1="146.4" y1="59.37" x2="148.6" y2="59.37" stroke="#333" stroke-width="0.6"/>
<text transform="translate(141.9,59.37) rotate(-90)" class="tk" font-size="5.0" text-anchor="middle" fill="#1a1a1a">0.6</text>
<line x1="146.4" y1="47.52" x2="148.6" y2="47.52" stroke="#333" stroke-width="0.6"/>
<text transform="translate(141.9,47.52) rotate(-90)" class="tk" font-size="5.0" text-anchor="middle" fill="#1a1a1a">0.8</text>
<line x1="146.4" y1="35.67" x2="148.6" y2="35.67" stroke="#333" stroke-width="0.6"/>
<text transform="translate(141.9,35.67) rotate(-90)" class="tk" font-size="5.0" text-anchor="middle" fill="#1a1a1a">1.0</text>
<line x1="150.99" y1="97.3" x2="150.99" y2="99.5" stroke="#333" stroke-width="0.6"/>
<text x="150.99" y="107.3" class="tk" font-size="5.0" text-anchor="middle" fill="#1a1a1a">0</text>
<line x1="162.91" y1="97.3" x2="162.91" y2="99.5" stroke="#333" stroke-width="0.6"/>
<text x="162.91" y="107.3" class="tk" font-size="5.0" text-anchor="middle" fill="#1a1a1a">20</text>
<line x1="174.84" y1="97.3" x2="174.84" y2="99.5" stroke="#333" stroke-width="0.6"/>
<text x="174.84" y="107.3" class="tk" font-size="5.0" text-anchor="middle" fill="#1a1a1a">40</text>
<line x1="186.76" y1="97.3" x2="186.76" y2="99.5" stroke="#333" stroke-width="0.6"/>
<text x="186.76" y="107.3" class="tk" font-size="5.0" text-anchor="middle" fill="#1a1a1a">60</text>
<line x1="198.69" y1="97.3" x2="198.69" y2="99.5" stroke="#333" stroke-width="0.6"/>
<text x="198.69" y="107.3" class="tk" font-size="5.0" text-anchor="middle" fill="#1a1a1a">80</text>
<line x1="210.61" y1="97.3" x2="210.61" y2="99.5" stroke="#333" stroke-width="0.6"/>
<text x="210.61" y="107.3" class="tk" font-size="5.0" text-anchor="middle" fill="#1a1a1a">100</text>
<text x="180.8" y="114.2" font-size="6.3" text-anchor="middle" fill="#1a1a1a">Age</text>
<text transform="translate(133.9,65.3) rotate(-90)" font-size="6.45" text-anchor="middle" fill="#1a1a1a">DNA methylation</text>
<text x="280.6" y="13.8" font-size="6.85" text-anchor="middle" fill="#1a1a1a">SIRT7_CpG_2</text>
<text x="280.6" y="23.2" class="it" font-size="6.4" font-style="italic" text-anchor="middle" fill="#1a1a1a">R=−0.38, p-value&lt;0.001</text>
<text x="280.6" y="30" class="it" font-size="6.4" font-style="italic" text-anchor="middle" fill="#1a1a1a">y=0.69−0.0020x</text>
<clipPath id="c20"><rect x="248.4" y="33.3" width="64.4" height="64"/></clipPath>
<g fill="#2a2a2a" stroke="none" clip-path="url(#c20)">
<circle cx="304.62" cy="58" r="0.95"/>
<circle cx="296.5" cy="58.5" r="0.95"/>
<circle cx="292.31" cy="55.1" r="0.95"/>
<circle cx="302.74" cy="64.97" r="0.95"/>
<circle cx="288.43" cy="53.6" r="0.95"/>
<circle cx="305.36" cy="73.26" r="0.95"/>
<circle cx="278.32" cy="54.98" r="0.95"/>
<circle cx="288.86" cy="67.88" r="0.95"/>
<circle cx="282.21" cy="56.14" r="0.95"/>
<circle cx="271.21" cy="64.53" r="0.95"/>
<circle cx="294.48" cy="56.68" r="0.95"/>
<circle cx="279.13" cy="60.43" r="0.95"/>
<circle cx="288.69" cy="49.65" r="0.95"/>
<circle cx="302.69" cy="65.09" r="0.95"/>
<circle cx="309.22" cy="64.45" r="0.95"/>
<circle cx="297.37" cy="59.61" r="0.95"/>
<circle cx="286.12" cy="70.12" r="0.95"/>
<circle cx="304.02" cy="63.35" r="0.95"/>
<circle cx="294.09" cy="67.98" r="0.95"/>
<circle cx="295.62" cy="57.33" r="0.95"/>
<circle cx="289.15" cy="53.23" r="0.95"/>
<circle cx="292.39" cy="64.58" r="0.95"/>
<circle cx="298.72" cy="69.93" r="0.95"/>
<circle cx="305.72" cy="71.03" r="0.95"/>
<circle cx="302.73" cy="59.48" r="0.95"/>
<circle cx="287.17" cy="70.52" r="0.95"/>
<circle cx="308" cy="62.41" r="0.95"/>
<circle cx="305.01" cy="63.76" r="0.95"/>
<circle cx="296.63" cy="66.29" r="0.95"/>
<circle cx="269.57" cy="60.3" r="0.95"/>
<circle cx="289.66" cy="66.29" r="0.95"/>
<circle cx="277.72" cy="52.01" r="0.95"/>
<circle cx="283.88" cy="56.99" r="0.95"/>
<circle cx="269.68" cy="55.46" r="0.95"/>
<circle cx="272.71" cy="62.16" r="0.95"/>
<circle cx="286.83" cy="70.58" r="0.95"/>
<circle cx="285.45" cy="52.3" r="0.95"/>
<circle cx="282.05" cy="57.52" r="0.95"/>
<circle cx="262.47" cy="51.88" r="0.95"/>
<circle cx="280.3" cy="60.43" r="0.95"/>
<circle cx="284.77" cy="67.41" r="0.95"/>
<circle cx="281.96" cy="65.64" r="0.95"/>
<circle cx="294.21" cy="56.86" r="0.95"/>
<circle cx="296.73" cy="63.87" r="0.95"/>
<circle cx="304.54" cy="62.61" r="0.95"/>
<circle cx="278.39" cy="61.27" r="0.95"/>
<circle cx="305.34" cy="56.95" r="0.95"/>
<circle cx="271.78" cy="48.16" r="0.95"/>
<circle cx="298.52" cy="62.78" r="0.95"/>
<circle cx="269.97" cy="51.29" r="0.95"/>
<circle cx="264.81" cy="52.93" r="0.95"/>
<circle cx="285.79" cy="64.42" r="0.95"/>
<circle cx="288.07" cy="55.61" r="0.95"/>
<circle cx="262.02" cy="61.84" r="0.95"/>
<circle cx="278.04" cy="69.39" r="0.95"/>
<circle cx="276.9" cy="54.83" r="0.95"/>
<circle cx="284.68" cy="63.06" r="0.95"/>
<circle cx="297.76" cy="65.79" r="0.95"/>
<circle cx="276.7" cy="54.28" r="0.95"/>
<circle cx="307.93" cy="67.41" r="0.95"/>
<circle cx="279.9" cy="51.34" r="0.95"/>
<circle cx="268.34" cy="54.1" r="0.95"/>
<circle cx="277.64" cy="65.83" r="0.95"/>
<circle cx="290.51" cy="58.86" r="0.95"/>
<circle cx="287.4" cy="60.66" r="0.95"/>
<circle cx="273" cy="59.13" r="0.95"/>
<circle cx="267.06" cy="43.68" r="0.95"/>
<circle cx="300.04" cy="67.04" r="0.95"/>
<circle cx="290.15" cy="62.39" r="0.95"/>
<circle cx="286.21" cy="61.07" r="0.95"/>
<circle cx="292.35" cy="63.87" r="0.95"/>
<circle cx="278.19" cy="61.72" r="0.95"/>
<circle cx="297.12" cy="66.96" r="0.95"/>
<circle cx="309.22" cy="66.05" r="0.95"/>
<circle cx="263.51" cy="53.89" r="0.95"/>
<circle cx="291.55" cy="67.73" r="0.95"/>
<circle cx="271.88" cy="59.43" r="0.95"/>
<circle cx="295.49" cy="68.78" r="0.95"/>
<circle cx="286.62" cy="67.91" r="0.95"/>
<circle cx="284.27" cy="63.85" r="0.95"/>
<circle cx="280.68" cy="55.97" r="0.95"/>
<circle cx="289.81" cy="56.99" r="0.95"/>
<circle cx="304.87" cy="64.16" r="0.95"/>
<circle cx="295.94" cy="64.98" r="0.95"/>
<circle cx="299.9" cy="64.91" r="0.95"/>
<circle cx="272.07" cy="53.59" r="0.95"/>
<circle cx="305.76" cy="62.65" r="0.95"/>
<circle cx="276.93" cy="55.15" r="0.95"/>
<circle cx="286.11" cy="62.47" r="0.95"/>
<circle cx="269.74" cy="51.01" r="0.95"/>
<circle cx="275.36" cy="61.83" r="0.95"/>
<circle cx="290.91" cy="58.61" r="0.95"/>
<circle cx="289.55" cy="58.29" r="0.95"/>
<circle cx="301.21" cy="53.94" r="0.95"/>
<circle cx="285.79" cy="65.38" r="0.95"/>
<circle cx="268.86" cy="63.01" r="0.95"/>
<circle cx="266.42" cy="56.47" r="0.95"/>
<circle cx="299.83" cy="68.01" r="0.95"/>
<circle cx="284.08" cy="59.97" r="0.95"/>
<circle cx="309.08" cy="68.32" r="0.95"/>
<circle cx="288.88" cy="64.54" r="0.95"/>
<circle cx="284.34" cy="60.75" r="0.95"/>
<circle cx="288.04" cy="60.61" r="0.95"/>
<circle cx="282.67" cy="61.04" r="0.95"/>
<circle cx="286.36" cy="66.85" r="0.95"/>
<circle cx="279.21" cy="50.73" r="0.95"/>
<circle cx="279.7" cy="54.13" r="0.95"/>
<circle cx="271.1" cy="55.2" r="0.95"/>
<circle cx="293" cy="68.6" r="0.95"/>
<circle cx="289.75" cy="54.93" r="0.95"/>
<circle cx="276.98" cy="65.83" r="0.95"/>
<circle cx="301.31" cy="72.46" r="0.95"/>
<circle cx="291.86" cy="60.82" r="0.95"/>
<circle cx="290.56" cy="65.65" r="0.95"/>
<circle cx="296.71" cy="64.83" r="0.95"/>
<circle cx="285.9" cy="56.65" r="0.95"/>
<circle cx="279.03" cy="55.54" r="0.95"/>
<circle cx="289.69" cy="52.81" r="0.95"/>
<circle cx="280.98" cy="64.09" r="0.95"/>
<circle cx="290.86" cy="73.59" r="0.95"/>
<circle cx="289.12" cy="56.78" r="0.95"/>
<circle cx="280.02" cy="57.42" r="0.95"/>
<circle cx="307.86" cy="67.4" r="0.95"/>
<circle cx="278.55" cy="64.06" r="0.95"/>
<circle cx="264.89" cy="57.69" r="0.95"/>
<circle cx="297.27" cy="54.04" r="0.95"/>
<circle cx="286.6" cy="56.65" r="0.95"/>
<circle cx="304.51" cy="58.5" r="0.95"/>
<circle cx="299.59" cy="55.32" r="0.95"/>
<circle cx="283.57" cy="65.61" r="0.95"/>
<circle cx="289.67" cy="66.51" r="0.95"/>
<circle cx="284.11" cy="70.81" r="0.95"/>
<circle cx="278.09" cy="60.65" r="0.95"/>
<circle cx="291.59" cy="67.31" r="0.95"/>
<circle cx="280.71" cy="69.08" r="0.95"/>
<circle cx="263.45" cy="61.15" r="0.95"/>
<circle cx="274.87" cy="57.97" r="0.95"/>
<circle cx="289.6" cy="59.13" r="0.95"/>
<circle cx="272.05" cy="56.41" r="0.95"/>
<circle cx="300.52" cy="67.11" r="0.95"/>
<circle cx="265.73" cy="53.51" r="0.95"/>
<circle cx="272.54" cy="62.76" r="0.95"/>
<circle cx="300.48" cy="60.83" r="0.95"/>
<circle cx="292.34" cy="57.59" r="0.95"/>
<circle cx="264.13" cy="63.86" r="0.95"/>
<circle cx="277.45" cy="62.78" r="0.95"/>
<circle cx="293.6" cy="59.39" r="0.95"/>
<circle cx="291.23" cy="59.35" r="0.95"/>
<circle cx="286.24" cy="63.25" r="0.95"/>
<circle cx="308.68" cy="59.65" r="0.95"/>
<circle cx="274.03" cy="55.97" r="0.95"/>
<circle cx="273.68" cy="49.85" r="0.95"/>
<circle cx="284.14" cy="52.47" r="0.95"/>
<circle cx="278.44" cy="56.81" r="0.95"/>
<circle cx="276.04" cy="59.94" r="0.95"/>
<circle cx="287.11" cy="59.87" r="0.95"/>
<circle cx="292.04" cy="65.4" r="0.95"/>
<circle cx="264" cy="58.53" r="0.95"/>
<circle cx="282.35" cy="58.38" r="0.95"/>
<circle cx="283.66" cy="51.11" r="0.95"/>
<circle cx="289.37" cy="57.17" r="0.95"/>
<circle cx="299.75" cy="63.95" r="0.95"/>
<circle cx="305.38" cy="67.51" r="0.95"/>
<circle cx="295.13" cy="61.79" r="0.95"/>
<circle cx="290.21" cy="62.45" r="0.95"/>
<circle cx="288.47" cy="65.59" r="0.95"/>
<circle cx="274.57" cy="61.2" r="0.95"/>
<circle cx="284.12" cy="57.96" r="0.95"/>
<circle cx="301.36" cy="68.05" r="0.95"/>
<circle cx="267.69" cy="57.42" r="0.95"/>
<circle cx="303.41" cy="62.53" r="0.95"/>
<circle cx="282.21" cy="56.38" r="0.95"/>
<circle cx="293.64" cy="54.57" r="0.95"/>
<circle cx="302.67" cy="64.79" r="0.95"/>
<circle cx="289.96" cy="62.36" r="0.95"/>
<circle cx="305.52" cy="74.32" r="0.95"/>
<circle cx="291.05" cy="52.51" r="0.95"/>
<circle cx="277.78" cy="58.12" r="0.95"/>
<circle cx="286.04" cy="60.76" r="0.95"/>
<circle cx="293.67" cy="57.69" r="0.95"/>
<circle cx="305.3" cy="60.25" r="0.95"/>
<circle cx="266.33" cy="56.98" r="0.95"/>
<circle cx="298.93" cy="68.68" r="0.95"/>
<circle cx="276.48" cy="51.09" r="0.95"/>
<circle cx="304.73" cy="62.24" r="0.95"/>
<circle cx="294.46" cy="60.73" r="0.95"/>
<circle cx="264.22" cy="69.63" r="0.95"/>
<circle cx="304.19" cy="61.39" r="0.95"/>
<circle cx="272.62" cy="66.03" r="0.95"/>
<circle cx="292.17" cy="59.76" r="0.95"/>
<circle cx="288.26" cy="67.98" r="0.95"/>
<circle cx="305.02" cy="66.04" r="0.95"/>
<circle cx="301.65" cy="53.71" r="0.95"/>
<circle cx="299.65" cy="61.68" r="0.95"/>
<circle cx="285.96" cy="55.66" r="0.95"/>
<circle cx="292.09" cy="62.12" r="0.95"/>
<circle cx="287.55" cy="57.45" r="0.95"/>
<circle cx="283.67" cy="71.53" r="0.95"/>
<circle cx="289.21" cy="59.06" r="0.95"/>
<circle cx="293.9" cy="56.14" r="0.95"/>
<circle cx="301.04" cy="57.7" r="0.95"/>
<circle cx="305.56" cy="70.92" r="0.95"/>
<circle cx="297.91" cy="56.47" r="0.95"/>
<circle cx="278.12" cy="64.08" r="0.95"/>
<circle cx="283.69" cy="66.52" r="0.95"/>
<circle cx="305.87" cy="70.67" r="0.95"/>
<circle cx="284.64" cy="59.23" r="0.95"/>
<circle cx="278.64" cy="55.81" r="0.95"/>
<circle cx="268.18" cy="52.31" r="0.95"/>
<circle cx="304.12" cy="58.51" r="0.95"/>
<circle cx="281.32" cy="65.19" r="0.95"/>
<circle cx="305.63" cy="62.5" r="0.95"/>
<circle cx="290.08" cy="62.71" r="0.95"/>
<circle cx="275.75" cy="57.84" r="0.95"/>
<circle cx="305.59" cy="70.57" r="0.95"/>
<circle cx="277.41" cy="57.95" r="0.95"/>
<circle cx="273.32" cy="57.59" r="0.95"/>
<circle cx="294.56" cy="55.59" r="0.95"/>
<circle cx="264.83" cy="50.28" r="0.95"/>
<circle cx="301.96" cy="55.84" r="0.95"/>
<circle cx="287.83" cy="59.37" r="0.95"/>
<circle cx="279.55" cy="46.13" r="0.95"/>
<circle cx="286.01" cy="58.43" r="0.95"/>
<circle cx="292.37" cy="69.64" r="0.95"/>
<circle cx="289.09" cy="59.06" r="0.95"/>
<circle cx="279.39" cy="58.68" r="0.95"/>
<circle cx="282.13" cy="58.3" r="0.95"/>
<circle cx="269.61" cy="56.97" r="0.95"/>
<circle cx="279.32" cy="57.87" r="0.95"/>
<circle cx="302.73" cy="57.04" r="0.95"/>
<circle cx="268.63" cy="54.08" r="0.95"/>
<circle cx="303.45" cy="65.38" r="0.95"/>
<circle cx="285.19" cy="60.1" r="0.95"/>
<circle cx="295.18" cy="64.21" r="0.95"/>
<circle cx="287.06" cy="57.48" r="0.95"/>
<circle cx="294.52" cy="54.56" r="0.95"/>
<circle cx="270.95" cy="51.4" r="0.95"/>
<circle cx="271.22" cy="52.78" r="0.95"/>
<circle cx="272.96" cy="49.25" r="0.95"/>
<circle cx="268.94" cy="57.05" r="0.95"/>
<circle cx="306.52" cy="70.45" r="0.95"/>
<circle cx="299.25" cy="62.99" r="0.95"/>
<circle cx="287.54" cy="59.37" r="0.95"/>
<circle cx="289.69" cy="60.4" r="0.95"/>
<circle cx="274.12" cy="58.59" r="0.95"/>
<circle cx="280.28" cy="58.98" r="0.95"/>
<circle cx="302.52" cy="57.8" r="0.95"/>
<circle cx="304" cy="70.92" r="0.95"/>
<circle cx="289.12" cy="63.59" r="0.95"/>
<circle cx="289.92" cy="63.58" r="0.95"/>
<circle cx="286.97" cy="52.47" r="0.95"/>
<circle cx="290.1" cy="61.99" r="0.95"/>
<circle cx="284.65" cy="61.72" r="0.95"/>
<circle cx="291.01" cy="69.93" r="0.95"/>
<circle cx="290.99" cy="65.06" r="0.95"/>
<circle cx="280.24" cy="56.52" r="0.95"/>
<circle cx="305.45" cy="78.24" r="0.95"/>
<circle cx="306.37" cy="71.88" r="0.95"/>
<circle cx="280.94" cy="56.58" r="0.95"/>
<circle cx="273.2" cy="56.99" r="0.95"/>
<circle cx="285.54" cy="65.17" r="0.95"/>
<circle cx="268.21" cy="57.65" r="0.95"/>
<circle cx="272" cy="63.64" r="0.95"/>
<circle cx="308.08" cy="72.52" r="0.95"/>
<circle cx="283.14" cy="52.62" r="0.95"/>
<circle cx="277.35" cy="63.17" r="0.95"/>
<circle cx="289.09" cy="66.32" r="0.95"/>
<circle cx="287.87" cy="68.6" r="0.95"/>
<circle cx="291.34" cy="56.86" r="0.95"/>
<circle cx="275.03" cy="48.71" r="0.95"/>
<circle cx="251.2" cy="42.9" r="0.95"/>
<circle cx="250.79" cy="41.6" r="0.95"/>
<circle cx="284.6" cy="35.67" r="0.95"/>
<circle cx="280.42" cy="42.9" r="0.95"/>
<circle cx="287.4" cy="41.71" r="0.95"/>
<circle cx="291.04" cy="42.9" r="0.95"/>
<circle cx="268.67" cy="74.19" r="0.95"/>
<circle cx="303.26" cy="75.37" r="0.95"/>
<circle cx="307.43" cy="75.37" r="0.95"/>
</g>
<line x1="248.4" y1="53.57" x2="312.8" y2="66.37" stroke="#3b8bcc" stroke-width="0.95" clip-path="url(#c20)"/>
<rect x="248.4" y="33.3" width="64.4" height="64" fill="none" stroke="#333" stroke-width="0.7"/>
<line x1="246.2" y1="94.93" x2="248.4" y2="94.93" stroke="#333" stroke-width="0.6"/>
<text transform="translate(241.7,94.93) rotate(-90)" class="tk" font-size="5.0" text-anchor="middle" fill="#1a1a1a">0.0</text>
<line x1="246.2" y1="83.08" x2="248.4" y2="83.08" stroke="#333" stroke-width="0.6"/>
<text transform="translate(241.7,83.08) rotate(-90)" class="tk" font-size="5.0" text-anchor="middle" fill="#1a1a1a">0.2</text>
<line x1="246.2" y1="71.23" x2="248.4" y2="71.23" stroke="#333" stroke-width="0.6"/>
<text transform="translate(241.7,71.23) rotate(-90)" class="tk" font-size="5.0" text-anchor="middle" fill="#1a1a1a">0.4</text>
<line x1="246.2" y1="59.37" x2="248.4" y2="59.37" stroke="#333" stroke-width="0.6"/>
<text transform="translate(241.7,59.37) rotate(-90)" class="tk" font-size="5.0" text-anchor="middle" fill="#1a1a1a">0.6</text>
<line x1="246.2" y1="47.52" x2="248.4" y2="47.52" stroke="#333" stroke-width="0.6"/>
<text transform="translate(241.7,47.52) rotate(-90)" class="tk" font-size="5.0" text-anchor="middle" fill="#1a1a1a">0.8</text>
<line x1="246.2" y1="35.67" x2="248.4" y2="35.67" stroke="#333" stroke-width="0.6"/>
<text transform="translate(241.7,35.67) rotate(-90)" class="tk" font-size="5.0" text-anchor="middle" fill="#1a1a1a">1.0</text>
<line x1="250.79" y1="97.3" x2="250.79" y2="99.5" stroke="#333" stroke-width="0.6"/>
<text x="250.79" y="107.3" class="tk" font-size="5.0" text-anchor="middle" fill="#1a1a1a">0</text>
<line x1="262.71" y1="97.3" x2="262.71" y2="99.5" stroke="#333" stroke-width="0.6"/>
<text x="262.71" y="107.3" class="tk" font-size="5.0" text-anchor="middle" fill="#1a1a1a">20</text>
<line x1="274.64" y1="97.3" x2="274.64" y2="99.5" stroke="#333" stroke-width="0.6"/>
<text x="274.64" y="107.3" class="tk" font-size="5.0" text-anchor="middle" fill="#1a1a1a">40</text>
<line x1="286.56" y1="97.3" x2="286.56" y2="99.5" stroke="#333" stroke-width="0.6"/>
<text x="286.56" y="107.3" class="tk" font-size="5.0" text-anchor="middle" fill="#1a1a1a">60</text>
<line x1="298.49" y1="97.3" x2="298.49" y2="99.5" stroke="#333" stroke-width="0.6"/>
<text x="298.49" y="107.3" class="tk" font-size="5.0" text-anchor="middle" fill="#1a1a1a">80</text>
<line x1="310.41" y1="97.3" x2="310.41" y2="99.5" stroke="#333" stroke-width="0.6"/>
<text x="310.41" y="107.3" class="tk" font-size="5.0" text-anchor="middle" fill="#1a1a1a">100</text>
<text x="280.6" y="114.2" font-size="6.3" text-anchor="middle" fill="#1a1a1a">Age</text>
<text transform="translate(233.7,65.3) rotate(-90)" font-size="6.45" text-anchor="middle" fill="#1a1a1a">DNA methylation</text>
<text x="75.3" y="128.5" font-size="6.85" text-anchor="middle" fill="#1a1a1a">TFAP2E_CpG_4</text>
<text x="75.3" y="137.9" class="it" font-size="6.4" font-style="italic" text-anchor="middle" fill="#1a1a1a">R=0.41, p-value&lt;0.001</text>
<text x="75.3" y="144.7" class="it" font-size="6.4" font-style="italic" text-anchor="middle" fill="#1a1a1a">y=−0.13+0.00048x</text>
<clipPath id="c01"><rect x="43.1" y="148" width="64.4" height="64"/></clipPath>
<g fill="#2a2a2a" stroke="none" clip-path="url(#c01)">
<circle cx="84.12" cy="208.2" r="0.95"/>
<circle cx="91.81" cy="207.7" r="0.95"/>
<circle cx="92.26" cy="208.21" r="0.95"/>
<circle cx="89.67" cy="208.52" r="0.95"/>
<circle cx="98.05" cy="206.46" r="0.95"/>
<circle cx="77.98" cy="208.12" r="0.95"/>
<circle cx="84.37" cy="208.85" r="0.95"/>
<circle cx="73.58" cy="209.53" r="0.95"/>
<circle cx="63.83" cy="209.43" r="0.95"/>
<circle cx="77.08" cy="208.69" r="0.95"/>
<circle cx="76.96" cy="208.98" r="0.95"/>
<circle cx="97.75" cy="207.08" r="0.95"/>
<circle cx="87.29" cy="208.28" r="0.95"/>
<circle cx="95.75" cy="207.84" r="0.95"/>
<circle cx="73.65" cy="209.49" r="0.95"/>
<circle cx="76.79" cy="207.4" r="0.95"/>
<circle cx="92.48" cy="207.26" r="0.95"/>
<circle cx="79.94" cy="208.54" r="0.95"/>
<circle cx="63.77" cy="209.04" r="0.95"/>
<circle cx="79.2" cy="209.07" r="0.95"/>
<circle cx="75.6" cy="208.98" r="0.95"/>
<circle cx="62.85" cy="207.99" r="0.95"/>
<circle cx="100.1" cy="207.44" r="0.95"/>
<circle cx="65.41" cy="209.65" r="0.95"/>
<circle cx="62.49" cy="209.19" r="0.95"/>
<circle cx="88.53" cy="208.39" r="0.95"/>
<circle cx="92.83" cy="208.28" r="0.95"/>
<circle cx="83.87" cy="208.15" r="0.95"/>
<circle cx="65.25" cy="208.48" r="0.95"/>
<circle cx="88.54" cy="207.76" r="0.95"/>
<circle cx="65.38" cy="209.05" r="0.95"/>
<circle cx="69.29" cy="208.41" r="0.95"/>
<circle cx="73.26" cy="209.45" r="0.95"/>
<circle cx="77.16" cy="208.64" r="0.95"/>
<circle cx="83.16" cy="209.61" r="0.95"/>
<circle cx="52.23" cy="209.7" r="0.95"/>
<circle cx="87.31" cy="208.31" r="0.95"/>
<circle cx="57.51" cy="209.96" r="0.95"/>
<circle cx="97.64" cy="206.52" r="0.95"/>
<circle cx="92.74" cy="207.29" r="0.95"/>
<circle cx="56.82" cy="210.52" r="0.95"/>
<circle cx="81.65" cy="207.42" r="0.95"/>
<circle cx="80.64" cy="210.2" r="0.95"/>
<circle cx="75.23" cy="209.92" r="0.95"/>
<circle cx="101.48" cy="208.02" r="0.95"/>
<circle cx="85.35" cy="209.07" r="0.95"/>
<circle cx="82.3" cy="208.61" r="0.95"/>
<circle cx="97.33" cy="208.14" r="0.95"/>
<circle cx="80.8" cy="208.69" r="0.95"/>
<circle cx="61.64" cy="210.49" r="0.95"/>
<circle cx="77.91" cy="208.3" r="0.95"/>
<circle cx="86.83" cy="208.64" r="0.95"/>
<circle cx="81.26" cy="208.21" r="0.95"/>
<circle cx="56.66" cy="209.32" r="0.95"/>
<circle cx="79.45" cy="208.66" r="0.95"/>
<circle cx="77.55" cy="208.41" r="0.95"/>
<circle cx="54.93" cy="210.52" r="0.95"/>
<circle cx="97.2" cy="207.99" r="0.95"/>
<circle cx="103.13" cy="207.8" r="0.95"/>
<circle cx="74.75" cy="209.24" r="0.95"/>
<circle cx="94.41" cy="208.53" r="0.95"/>
<circle cx="71.1" cy="209.57" r="0.95"/>
<circle cx="96.28" cy="207.93" r="0.95"/>
<circle cx="64.77" cy="209.26" r="0.95"/>
<circle cx="82.32" cy="209.68" r="0.95"/>
<circle cx="92.79" cy="207.35" r="0.95"/>
<circle cx="61.86" cy="209.39" r="0.95"/>
<circle cx="72.07" cy="209.42" r="0.95"/>
<circle cx="77.87" cy="208.22" r="0.95"/>
<circle cx="76.4" cy="208.25" r="0.95"/>
<circle cx="87.06" cy="208.39" r="0.95"/>
<circle cx="84.45" cy="207.68" r="0.95"/>
<circle cx="86.42" cy="208.2" r="0.95"/>
<circle cx="76.13" cy="209.18" r="0.95"/>
<circle cx="87.97" cy="207.37" r="0.95"/>
<circle cx="86.73" cy="207.84" r="0.95"/>
<circle cx="63.83" cy="208.37" r="0.95"/>
<circle cx="86.71" cy="207.65" r="0.95"/>
<circle cx="86.51" cy="208.32" r="0.95"/>
<circle cx="94.73" cy="207" r="0.95"/>
<circle cx="63.38" cy="209.98" r="0.95"/>
<circle cx="79.83" cy="209.38" r="0.95"/>
<circle cx="99.96" cy="207.38" r="0.95"/>
<circle cx="67.56" cy="208.33" r="0.95"/>
<circle cx="102.09" cy="208.3" r="0.95"/>
<circle cx="84.6" cy="208.38" r="0.95"/>
<circle cx="89.7" cy="209.47" r="0.95"/>
<circle cx="55.91" cy="209.48" r="0.95"/>
<circle cx="101.04" cy="207.21" r="0.95"/>
<circle cx="83.83" cy="207.4" r="0.95"/>
<circle cx="80.75" cy="207.98" r="0.95"/>
<circle cx="87.9" cy="207.02" r="0.95"/>
<circle cx="96.92" cy="208.24" r="0.95"/>
<circle cx="104.27" cy="207.44" r="0.95"/>
<circle cx="84.81" cy="209.17" r="0.95"/>
<circle cx="85.44" cy="208.65" r="0.95"/>
<circle cx="94.21" cy="207.75" r="0.95"/>
<circle cx="85.79" cy="207.2" r="0.95"/>
<circle cx="85.29" cy="207.41" r="0.95"/>
<circle cx="94.71" cy="207.31" r="0.95"/>
<circle cx="94.13" cy="208.18" r="0.95"/>
<circle cx="97" cy="207.51" r="0.95"/>
<circle cx="89.59" cy="208.36" r="0.95"/>
<circle cx="77.55" cy="209.05" r="0.95"/>
<circle cx="63.62" cy="208.89" r="0.95"/>
<circle cx="87.26" cy="208.29" r="0.95"/>
<circle cx="53.38" cy="209.8" r="0.95"/>
<circle cx="82.1" cy="208.84" r="0.95"/>
<circle cx="61.73" cy="210.52" r="0.95"/>
<circle cx="65.9" cy="209.13" r="0.95"/>
<circle cx="73.66" cy="208.23" r="0.95"/>
<circle cx="105.11" cy="208.21" r="0.95"/>
<circle cx="77.05" cy="208.61" r="0.95"/>
<circle cx="85.97" cy="209.31" r="0.95"/>
<circle cx="56.54" cy="210.52" r="0.95"/>
<circle cx="85.62" cy="207.93" r="0.95"/>
<circle cx="96.2" cy="207.69" r="0.95"/>
<circle cx="105.09" cy="207.88" r="0.95"/>
<circle cx="87.63" cy="208.42" r="0.95"/>
<circle cx="105.11" cy="208.03" r="0.95"/>
<circle cx="76.9" cy="207.29" r="0.95"/>
<circle cx="71.52" cy="210.07" r="0.95"/>
<circle cx="95.89" cy="207.81" r="0.95"/>
<circle cx="84.05" cy="208.32" r="0.95"/>
<circle cx="75.82" cy="208.58" r="0.95"/>
<circle cx="95.33" cy="208.41" r="0.95"/>
<circle cx="88.55" cy="208.11" r="0.95"/>
<circle cx="102.98" cy="207.57" r="0.95"/>
<circle cx="58.8" cy="209.46" r="0.95"/>
<circle cx="89.29" cy="206.4" r="0.95"/>
<circle cx="86.56" cy="206.63" r="0.95"/>
<circle cx="60.44" cy="209.6" r="0.95"/>
<circle cx="82.24" cy="208.7" r="0.95"/>
<circle cx="68.5" cy="209.77" r="0.95"/>
<circle cx="94.39" cy="207.76" r="0.95"/>
<circle cx="91.07" cy="209.11" r="0.95"/>
<circle cx="82.35" cy="208.24" r="0.95"/>
<circle cx="103.06" cy="207.62" r="0.95"/>
<circle cx="52.39" cy="210.09" r="0.95"/>
<circle cx="66.96" cy="209.11" r="0.95"/>
<circle cx="90.57" cy="207.99" r="0.95"/>
<circle cx="74.62" cy="209.37" r="0.95"/>
<circle cx="89.53" cy="207.6" r="0.95"/>
<circle cx="78.13" cy="208.92" r="0.95"/>
<circle cx="64.53" cy="208.77" r="0.95"/>
<circle cx="75.43" cy="209.47" r="0.95"/>
<circle cx="90.28" cy="209.27" r="0.95"/>
<circle cx="66.08" cy="208.78" r="0.95"/>
<circle cx="55.53" cy="210.05" r="0.95"/>
<circle cx="79.13" cy="208.6" r="0.95"/>
<circle cx="81.82" cy="207.54" r="0.95"/>
<circle cx="64.14" cy="209.98" r="0.95"/>
<circle cx="70.94" cy="208.37" r="0.95"/>
<circle cx="91.23" cy="208.44" r="0.95"/>
<circle cx="82.23" cy="208.15" r="0.95"/>
<circle cx="76.71" cy="208.25" r="0.95"/>
<circle cx="76.96" cy="208.15" r="0.95"/>
<circle cx="70.09" cy="208.3" r="0.95"/>
<circle cx="80.86" cy="208.74" r="0.95"/>
<circle cx="79.73" cy="208.38" r="0.95"/>
<circle cx="85.26" cy="208.45" r="0.95"/>
<circle cx="93.68" cy="208.33" r="0.95"/>
<circle cx="73.4" cy="208.14" r="0.95"/>
<circle cx="89.51" cy="207.45" r="0.95"/>
<circle cx="80.42" cy="208.57" r="0.95"/>
<circle cx="76.34" cy="208.1" r="0.95"/>
<circle cx="63.39" cy="209.01" r="0.95"/>
<circle cx="65.72" cy="208.59" r="0.95"/>
<circle cx="58.75" cy="209.67" r="0.95"/>
<circle cx="71.19" cy="208.85" r="0.95"/>
<circle cx="94.68" cy="208.25" r="0.95"/>
<circle cx="89.79" cy="207.81" r="0.95"/>
<circle cx="75.64" cy="208.32" r="0.95"/>
<circle cx="95.24" cy="207.27" r="0.95"/>
<circle cx="77.3" cy="208.39" r="0.95"/>
<circle cx="87.72" cy="208.71" r="0.95"/>
<circle cx="71.29" cy="210.21" r="0.95"/>
<circle cx="86.03" cy="207.9" r="0.95"/>
<circle cx="67.34" cy="208.61" r="0.95"/>
<circle cx="77.73" cy="209.73" r="0.95"/>
<circle cx="92.57" cy="208.45" r="0.95"/>
<circle cx="61.88" cy="209.78" r="0.95"/>
<circle cx="95.54" cy="208.66" r="0.95"/>
<circle cx="94.94" cy="207.87" r="0.95"/>
<circle cx="69.46" cy="208.27" r="0.95"/>
<circle cx="52.25" cy="210.19" r="0.95"/>
<circle cx="83.16" cy="207.47" r="0.95"/>
<circle cx="51.7" cy="210.45" r="0.95"/>
<circle cx="88.79" cy="206.01" r="0.95"/>
<circle cx="63.79" cy="210.11" r="0.95"/>
<circle cx="89.61" cy="208.8" r="0.95"/>
<circle cx="77.19" cy="208.4" r="0.95"/>
<circle cx="57.58" cy="208.9" r="0.95"/>
<circle cx="89.23" cy="208.49" r="0.95"/>
<circle cx="83.29" cy="207.89" r="0.95"/>
<circle cx="80.28" cy="208.18" r="0.95"/>
<circle cx="92.65" cy="208.03" r="0.95"/>
<circle cx="54.4" cy="210.47" r="0.95"/>
<circle cx="60.17" cy="208.42" r="0.95"/>
<circle cx="84.94" cy="208.41" r="0.95"/>
<circle cx="82.96" cy="209.04" r="0.95"/>
<circle cx="100.04" cy="207.14" r="0.95"/>
<circle cx="78.47" cy="207.48" r="0.95"/>
<circle cx="84.54" cy="208.76" r="0.95"/>
<circle cx="89.15" cy="207.87" r="0.95"/>
<circle cx="85.88" cy="207.92" r="0.95"/>
<circle cx="82.92" cy="207.63" r="0.95"/>
<circle cx="77.93" cy="207.96" r="0.95"/>
<circle cx="94.11" cy="206.24" r="0.95"/>
<circle cx="89.43" cy="208.51" r="0.95"/>
<circle cx="90.87" cy="208.48" r="0.95"/>
<circle cx="84.71" cy="207.63" r="0.95"/>
<circle cx="88.18" cy="208.89" r="0.95"/>
<circle cx="88.03" cy="208.39" r="0.95"/>
<circle cx="88.71" cy="208.28" r="0.95"/>
<circle cx="85.47" cy="208.23" r="0.95"/>
<circle cx="65.32" cy="208.55" r="0.95"/>
<circle cx="70.19" cy="208.4" r="0.95"/>
<circle cx="90.32" cy="208.4" r="0.95"/>
<circle cx="67.05" cy="208.77" r="0.95"/>
<circle cx="81.27" cy="208.68" r="0.95"/>
<circle cx="69.77" cy="207.66" r="0.95"/>
<circle cx="68.15" cy="209.51" r="0.95"/>
<circle cx="71.53" cy="209.57" r="0.95"/>
<circle cx="59.89" cy="210.23" r="0.95"/>
<circle cx="92.84" cy="208.71" r="0.95"/>
<circle cx="79.5" cy="208.47" r="0.95"/>
<circle cx="62.17" cy="210.34" r="0.95"/>
<circle cx="78.53" cy="209.47" r="0.95"/>
<circle cx="84.14" cy="208.87" r="0.95"/>
<circle cx="54.08" cy="210.13" r="0.95"/>
<circle cx="97.35" cy="208.29" r="0.95"/>
<circle cx="101.45" cy="207.24" r="0.95"/>
<circle cx="78.48" cy="206.08" r="0.95"/>
<circle cx="78.65" cy="208.9" r="0.95"/>
<circle cx="85.66" cy="208.23" r="0.95"/>
<circle cx="81.94" cy="208.29" r="0.95"/>
<circle cx="73.51" cy="207.78" r="0.95"/>
<circle cx="55.21" cy="209.48" r="0.95"/>
<circle cx="77.46" cy="209.31" r="0.95"/>
<circle cx="84.95" cy="209.1" r="0.95"/>
<circle cx="68.53" cy="208.95" r="0.95"/>
<circle cx="80.65" cy="209.2" r="0.95"/>
<circle cx="69.33" cy="209.48" r="0.95"/>
<circle cx="102.97" cy="208.37" r="0.95"/>
<circle cx="75.08" cy="207.84" r="0.95"/>
<circle cx="75.91" cy="208.04" r="0.95"/>
<circle cx="83.8" cy="208.45" r="0.95"/>
<circle cx="86.67" cy="208.11" r="0.95"/>
<circle cx="91.15" cy="208.32" r="0.95"/>
<circle cx="72.74" cy="204" r="0.95"/>
<circle cx="86.51" cy="197.01" r="0.95"/>
<circle cx="83.83" cy="201.39" r="0.95"/>
<circle cx="85.79" cy="201.99" r="0.95"/>
<circle cx="89.01" cy="201.39" r="0.95"/>
<circle cx="93.01" cy="203.29" r="0.95"/>
<circle cx="97.6" cy="203.29" r="0.95"/>
<circle cx="100.94" cy="203.29" r="0.95"/>
<circle cx="104.1" cy="201.99" r="0.95"/>
<circle cx="79.3" cy="205.3" r="0.95"/>
<circle cx="45.49" cy="209.63" r="0.95"/>
<circle cx="47.27" cy="209.33" r="0.95"/>
<circle cx="82.46" cy="206.07" r="0.95"/>
<circle cx="87.23" cy="206.67" r="0.95"/>
<circle cx="90.21" cy="205.48" r="0.95"/>
<circle cx="94.38" cy="206.07" r="0.95"/>
</g>
<line x1="43.1" y1="210.65" x2="107.5" y2="207.13" stroke="#3b8bcc" stroke-width="0.95" clip-path="url(#c01)"/>
<rect x="43.1" y="148" width="64.4" height="64" fill="none" stroke="#333" stroke-width="0.7"/>
<line x1="40.9" y1="209.63" x2="43.1" y2="209.63" stroke="#333" stroke-width="0.6"/>
<text transform="translate(36.4,209.63) rotate(-90)" class="tk" font-size="5.0" text-anchor="middle" fill="#1a1a1a">0.0</text>
<line x1="40.9" y1="197.78" x2="43.1" y2="197.78" stroke="#333" stroke-width="0.6"/>
<text transform="translate(36.4,197.78) rotate(-90)" class="tk" font-size="5.0" text-anchor="middle" fill="#1a1a1a">0.2</text>
<line x1="40.9" y1="185.93" x2="43.1" y2="185.93" stroke="#333" stroke-width="0.6"/>
<text transform="translate(36.4,185.93) rotate(-90)" class="tk" font-size="5.0" text-anchor="middle" fill="#1a1a1a">0.4</text>
<line x1="40.9" y1="174.07" x2="43.1" y2="174.07" stroke="#333" stroke-width="0.6"/>
<text transform="translate(36.4,174.07) rotate(-90)" class="tk" font-size="5.0" text-anchor="middle" fill="#1a1a1a">0.6</text>
<line x1="40.9" y1="162.22" x2="43.1" y2="162.22" stroke="#333" stroke-width="0.6"/>
<text transform="translate(36.4,162.22) rotate(-90)" class="tk" font-size="5.0" text-anchor="middle" fill="#1a1a1a">0.8</text>
<line x1="40.9" y1="150.37" x2="43.1" y2="150.37" stroke="#333" stroke-width="0.6"/>
<text transform="translate(36.4,150.37) rotate(-90)" class="tk" font-size="5.0" text-anchor="middle" fill="#1a1a1a">1.0</text>
<line x1="45.49" y1="212" x2="45.49" y2="214.2" stroke="#333" stroke-width="0.6"/>
<text x="45.49" y="222" class="tk" font-size="5.0" text-anchor="middle" fill="#1a1a1a">0</text>
<line x1="57.41" y1="212" x2="57.41" y2="214.2" stroke="#333" stroke-width="0.6"/>
<text x="57.41" y="222" class="tk" font-size="5.0" text-anchor="middle" fill="#1a1a1a">20</text>
<line x1="69.34" y1="212" x2="69.34" y2="214.2" stroke="#333" stroke-width="0.6"/>
<text x="69.34" y="222" class="tk" font-size="5.0" text-anchor="middle" fill="#1a1a1a">40</text>
<line x1="81.26" y1="212" x2="81.26" y2="214.2" stroke="#333" stroke-width="0.6"/>
<text x="81.26" y="222" class="tk" font-size="5.0" text-anchor="middle" fill="#1a1a1a">60</text>
<line x1="93.19" y1="212" x2="93.19" y2="214.2" stroke="#333" stroke-width="0.6"/>
<text x="93.19" y="222" class="tk" font-size="5.0" text-anchor="middle" fill="#1a1a1a">80</text>
<line x1="105.11" y1="212" x2="105.11" y2="214.2" stroke="#333" stroke-width="0.6"/>
<text x="105.11" y="222" class="tk" font-size="5.0" text-anchor="middle" fill="#1a1a1a">100</text>
<text x="75.3" y="228.9" font-size="6.3" text-anchor="middle" fill="#1a1a1a">Age</text>
<text transform="translate(28.4,180) rotate(-90)" font-size="6.45" text-anchor="middle" fill="#1a1a1a">DNA methylation</text>
<text x="180.8" y="128.5" font-size="6.85" text-anchor="middle" fill="#1a1a1a">NHLRC1_CpG_2.3</text>
<text x="180.8" y="137.9" class="it" font-size="6.4" font-style="italic" text-anchor="middle" fill="#1a1a1a">R=0.29, p-value&lt;0.001</text>
<text x="180.8" y="144.7" class="it" font-size="6.4" font-style="italic" text-anchor="middle" fill="#1a1a1a">y=0.22+0.0010x</text>
<clipPath id="c11"><rect x="148.6" y="148" width="64.4" height="64"/></clipPath>
<g fill="#2a2a2a" stroke="none" clip-path="url(#c11)">
<circle cx="177.89" cy="200.59" r="0.95"/>
<circle cx="188.55" cy="195.1" r="0.95"/>
<circle cx="173.98" cy="195.45" r="0.95"/>
<circle cx="184.04" cy="191.1" r="0.95"/>
<circle cx="172.14" cy="202" r="0.95"/>
<circle cx="181.58" cy="190.02" r="0.95"/>
<circle cx="184.58" cy="195.26" r="0.95"/>
<circle cx="192.67" cy="188.76" r="0.95"/>
<circle cx="181.89" cy="186.07" r="0.95"/>
<circle cx="186.92" cy="194.93" r="0.95"/>
<circle cx="178.25" cy="198.44" r="0.95"/>
<circle cx="187.06" cy="186.94" r="0.95"/>
<circle cx="195.9" cy="193.05" r="0.95"/>
<circle cx="203.46" cy="190.96" r="0.95"/>
<circle cx="186.43" cy="192.84" r="0.95"/>
<circle cx="187.51" cy="194.11" r="0.95"/>
<circle cx="189.81" cy="198.84" r="0.95"/>
<circle cx="185.49" cy="196.34" r="0.95"/>
<circle cx="192.96" cy="188.21" r="0.95"/>
<circle cx="185.58" cy="190.53" r="0.95"/>
<circle cx="184.67" cy="189.21" r="0.95"/>
<circle cx="164.75" cy="205.24" r="0.95"/>
<circle cx="185.97" cy="191.72" r="0.95"/>
<circle cx="193.24" cy="192.36" r="0.95"/>
<circle cx="193.67" cy="191.65" r="0.95"/>
<circle cx="193.73" cy="194.79" r="0.95"/>
<circle cx="180.24" cy="195.08" r="0.95"/>
<circle cx="189.49" cy="195.35" r="0.95"/>
<circle cx="208.27" cy="192.77" r="0.95"/>
<circle cx="186.07" cy="187.97" r="0.95"/>
<circle cx="184.22" cy="192.21" r="0.95"/>
<circle cx="180.64" cy="192.68" r="0.95"/>
<circle cx="166.92" cy="196.76" r="0.95"/>
<circle cx="181.87" cy="201.73" r="0.95"/>
<circle cx="199.61" cy="190.99" r="0.95"/>
<circle cx="179.86" cy="196.42" r="0.95"/>
<circle cx="178.63" cy="192.1" r="0.95"/>
<circle cx="169.38" cy="194.79" r="0.95"/>
<circle cx="177.04" cy="195.13" r="0.95"/>
<circle cx="174.42" cy="198.96" r="0.95"/>
<circle cx="164.46" cy="197.88" r="0.95"/>
<circle cx="173.11" cy="197.84" r="0.95"/>
<circle cx="182.41" cy="188.85" r="0.95"/>
<circle cx="197.76" cy="190.8" r="0.95"/>
<circle cx="169.02" cy="194.79" r="0.95"/>
<circle cx="187.59" cy="191.38" r="0.95"/>
<circle cx="194.09" cy="196.56" r="0.95"/>
<circle cx="189.6" cy="190.76" r="0.95"/>
<circle cx="169.01" cy="196.19" r="0.95"/>
<circle cx="194.99" cy="192.12" r="0.95"/>
<circle cx="201.53" cy="189.35" r="0.95"/>
<circle cx="185.91" cy="196.72" r="0.95"/>
<circle cx="197.63" cy="192.45" r="0.95"/>
<circle cx="182.9" cy="185.39" r="0.95"/>
<circle cx="171.59" cy="191.61" r="0.95"/>
<circle cx="197.12" cy="193.04" r="0.95"/>
<circle cx="188.09" cy="196.81" r="0.95"/>
<circle cx="184.61" cy="193.49" r="0.95"/>
<circle cx="193.61" cy="197.39" r="0.95"/>
<circle cx="164.97" cy="194.75" r="0.95"/>
<circle cx="191.31" cy="198.72" r="0.95"/>
<circle cx="186.11" cy="204.51" r="0.95"/>
<circle cx="185.09" cy="189.95" r="0.95"/>
<circle cx="188.93" cy="192.92" r="0.95"/>
<circle cx="182.32" cy="194.2" r="0.95"/>
<circle cx="190.47" cy="197.17" r="0.95"/>
<circle cx="198.95" cy="194.3" r="0.95"/>
<circle cx="194.77" cy="189.35" r="0.95"/>
<circle cx="181.29" cy="195.91" r="0.95"/>
<circle cx="169.34" cy="195.13" r="0.95"/>
<circle cx="185.46" cy="196.26" r="0.95"/>
<circle cx="204.46" cy="191.73" r="0.95"/>
<circle cx="167.15" cy="195.27" r="0.95"/>
<circle cx="196.45" cy="188.32" r="0.95"/>
<circle cx="180.35" cy="196.51" r="0.95"/>
<circle cx="169.22" cy="198.91" r="0.95"/>
<circle cx="176.35" cy="191.16" r="0.95"/>
<circle cx="179.23" cy="194.51" r="0.95"/>
<circle cx="164.4" cy="200.94" r="0.95"/>
<circle cx="178.78" cy="193.32" r="0.95"/>
<circle cx="187.78" cy="196.96" r="0.95"/>
<circle cx="186.52" cy="191.87" r="0.95"/>
<circle cx="188.08" cy="196.89" r="0.95"/>
<circle cx="181.27" cy="203.1" r="0.95"/>
<circle cx="187.64" cy="187.79" r="0.95"/>
<circle cx="195.29" cy="194.69" r="0.95"/>
<circle cx="194.72" cy="197.86" r="0.95"/>
<circle cx="189.44" cy="198.98" r="0.95"/>
<circle cx="196.35" cy="190.68" r="0.95"/>
<circle cx="174.57" cy="194.29" r="0.95"/>
<circle cx="190.9" cy="200.95" r="0.95"/>
<circle cx="199.61" cy="188.23" r="0.95"/>
<circle cx="195.62" cy="195.62" r="0.95"/>
<circle cx="186.75" cy="201.43" r="0.95"/>
<circle cx="197.53" cy="192.17" r="0.95"/>
<circle cx="190.66" cy="184.63" r="0.95"/>
<circle cx="191.67" cy="193.26" r="0.95"/>
<circle cx="201.89" cy="189.46" r="0.95"/>
<circle cx="202.17" cy="187.55" r="0.95"/>
<circle cx="193.04" cy="193.93" r="0.95"/>
<circle cx="180.44" cy="197.64" r="0.95"/>
<circle cx="193.67" cy="196.27" r="0.95"/>
<circle cx="188.49" cy="188.51" r="0.95"/>
<circle cx="186.77" cy="197.85" r="0.95"/>
<circle cx="193.48" cy="193.73" r="0.95"/>
<circle cx="183.48" cy="193.03" r="0.95"/>
<circle cx="189.32" cy="200.33" r="0.95"/>
<circle cx="188.65" cy="199.5" r="0.95"/>
<circle cx="186.32" cy="196.03" r="0.95"/>
<circle cx="208.5" cy="190.45" r="0.95"/>
<circle cx="187.21" cy="189.59" r="0.95"/>
<circle cx="173.19" cy="193.35" r="0.95"/>
<circle cx="183.72" cy="187.32" r="0.95"/>
<circle cx="198.28" cy="193.24" r="0.95"/>
<circle cx="192.97" cy="186.94" r="0.95"/>
<circle cx="190.63" cy="192.01" r="0.95"/>
<circle cx="181.65" cy="199.3" r="0.95"/>
<circle cx="202.76" cy="188.71" r="0.95"/>
<circle cx="185.03" cy="193.37" r="0.95"/>
<circle cx="184.97" cy="190.73" r="0.95"/>
<circle cx="178.35" cy="189.81" r="0.95"/>
<circle cx="187.31" cy="192.41" r="0.95"/>
<circle cx="182.06" cy="201.82" r="0.95"/>
<circle cx="188.79" cy="191.49" r="0.95"/>
<circle cx="197.14" cy="195.59" r="0.95"/>
<circle cx="191.95" cy="196.55" r="0.95"/>
<circle cx="197.46" cy="189.93" r="0.95"/>
<circle cx="172.19" cy="188.1" r="0.95"/>
<circle cx="193.04" cy="188.52" r="0.95"/>
<circle cx="190.77" cy="193.11" r="0.95"/>
<circle cx="183.15" cy="191.19" r="0.95"/>
<circle cx="190.86" cy="185.81" r="0.95"/>
<circle cx="199.44" cy="192.94" r="0.95"/>
<circle cx="194.4" cy="184.21" r="0.95"/>
<circle cx="199.95" cy="192.14" r="0.95"/>
<circle cx="175" cy="199.53" r="0.95"/>
<circle cx="192.71" cy="197.3" r="0.95"/>
<circle cx="202.45" cy="196.51" r="0.95"/>
<circle cx="185.52" cy="193.45" r="0.95"/>
<circle cx="175.82" cy="196.42" r="0.95"/>
<circle cx="187.62" cy="190.1" r="0.95"/>
<circle cx="180.04" cy="190.29" r="0.95"/>
<circle cx="207.51" cy="186.07" r="0.95"/>
<circle cx="170.07" cy="201.62" r="0.95"/>
<circle cx="188.41" cy="197.42" r="0.95"/>
<circle cx="191.49" cy="190.98" r="0.95"/>
<circle cx="193.24" cy="188.49" r="0.95"/>
<circle cx="189.46" cy="190.15" r="0.95"/>
<circle cx="187" cy="192.72" r="0.95"/>
<circle cx="175.88" cy="192.8" r="0.95"/>
<circle cx="184.4" cy="195.23" r="0.95"/>
<circle cx="193.42" cy="196.08" r="0.95"/>
<circle cx="203.91" cy="187.84" r="0.95"/>
<circle cx="198.29" cy="190.95" r="0.95"/>
<circle cx="177.72" cy="197.32" r="0.95"/>
<circle cx="191.24" cy="192.88" r="0.95"/>
<circle cx="191.03" cy="191.48" r="0.95"/>
<circle cx="182.46" cy="203.3" r="0.95"/>
<circle cx="181.21" cy="187.28" r="0.95"/>
<circle cx="177.84" cy="194.59" r="0.95"/>
<circle cx="189.89" cy="192.1" r="0.95"/>
<circle cx="204.69" cy="190.64" r="0.95"/>
<circle cx="181.74" cy="195.39" r="0.95"/>
<circle cx="208.28" cy="196.2" r="0.95"/>
<circle cx="200.61" cy="189.31" r="0.95"/>
<circle cx="179.89" cy="198.28" r="0.95"/>
<circle cx="188.85" cy="193.88" r="0.95"/>
<circle cx="193.09" cy="194.74" r="0.95"/>
<circle cx="188.25" cy="200.14" r="0.95"/>
<circle cx="197.5" cy="190.62" r="0.95"/>
<circle cx="172.46" cy="193.27" r="0.95"/>
<circle cx="191.21" cy="185.36" r="0.95"/>
<circle cx="193.78" cy="190.63" r="0.95"/>
<circle cx="202.54" cy="185.52" r="0.95"/>
<circle cx="190.63" cy="195.68" r="0.95"/>
<circle cx="187.05" cy="190.37" r="0.95"/>
<circle cx="162.51" cy="188.29" r="0.95"/>
<circle cx="185.58" cy="199.1" r="0.95"/>
<circle cx="189.34" cy="195.85" r="0.95"/>
<circle cx="180.95" cy="194.12" r="0.95"/>
<circle cx="184.91" cy="191.53" r="0.95"/>
<circle cx="185.72" cy="192.7" r="0.95"/>
<circle cx="199.47" cy="199.3" r="0.95"/>
<circle cx="171.02" cy="194.67" r="0.95"/>
<circle cx="194.13" cy="197.46" r="0.95"/>
<circle cx="188.1" cy="198.74" r="0.95"/>
<circle cx="205.07" cy="195.22" r="0.95"/>
<circle cx="197.03" cy="198.49" r="0.95"/>
<circle cx="190.82" cy="182.74" r="0.95"/>
<circle cx="190.16" cy="191.73" r="0.95"/>
<circle cx="176.82" cy="192.75" r="0.95"/>
<circle cx="177.66" cy="192.31" r="0.95"/>
<circle cx="193.46" cy="192.14" r="0.95"/>
<circle cx="193.5" cy="199.36" r="0.95"/>
<circle cx="204.23" cy="193.46" r="0.95"/>
<circle cx="165.48" cy="196.43" r="0.95"/>
<circle cx="162.34" cy="192.79" r="0.95"/>
<circle cx="192.75" cy="192.87" r="0.95"/>
<circle cx="193.13" cy="198.45" r="0.95"/>
<circle cx="186.07" cy="198.44" r="0.95"/>
<circle cx="195.64" cy="199.18" r="0.95"/>
<circle cx="187.2" cy="188.08" r="0.95"/>
<circle cx="176.12" cy="199.72" r="0.95"/>
<circle cx="183.65" cy="192.69" r="0.95"/>
<circle cx="162.9" cy="194.89" r="0.95"/>
<circle cx="190.74" cy="189.27" r="0.95"/>
<circle cx="177.58" cy="197.85" r="0.95"/>
<circle cx="179.77" cy="198.46" r="0.95"/>
<circle cx="190.33" cy="195.8" r="0.95"/>
<circle cx="173.11" cy="193.86" r="0.95"/>
<circle cx="163.71" cy="194.2" r="0.95"/>
<circle cx="193.31" cy="199.76" r="0.95"/>
<circle cx="195.27" cy="187.93" r="0.95"/>
<circle cx="186.9" cy="199.96" r="0.95"/>
<circle cx="198.64" cy="185.36" r="0.95"/>
<circle cx="204.63" cy="192.78" r="0.95"/>
<circle cx="193.43" cy="191.45" r="0.95"/>
<circle cx="192.44" cy="191.16" r="0.95"/>
<circle cx="197.7" cy="193.87" r="0.95"/>
<circle cx="192.58" cy="192.11" r="0.95"/>
<circle cx="190.91" cy="194.48" r="0.95"/>
<circle cx="173.58" cy="193.13" r="0.95"/>
<circle cx="198.29" cy="191" r="0.95"/>
<circle cx="180.95" cy="195.05" r="0.95"/>
<circle cx="182.74" cy="189.54" r="0.95"/>
<circle cx="184.92" cy="190.56" r="0.95"/>
<circle cx="181.76" cy="197.08" r="0.95"/>
<circle cx="187.65" cy="194.89" r="0.95"/>
<circle cx="199.46" cy="194.66" r="0.95"/>
<circle cx="188.12" cy="196.56" r="0.95"/>
<circle cx="181.94" cy="192.04" r="0.95"/>
<circle cx="197.19" cy="192.9" r="0.95"/>
<circle cx="187.26" cy="190.59" r="0.95"/>
<circle cx="199.48" cy="194.37" r="0.95"/>
<circle cx="184.78" cy="193.69" r="0.95"/>
<circle cx="169.98" cy="197.53" r="0.95"/>
<circle cx="199.49" cy="190.11" r="0.95"/>
<circle cx="195.47" cy="194.88" r="0.95"/>
<circle cx="193.75" cy="196.01" r="0.95"/>
<circle cx="180.75" cy="196.66" r="0.95"/>
<circle cx="194.73" cy="195.73" r="0.95"/>
<circle cx="188.55" cy="191.97" r="0.95"/>
<circle cx="187.43" cy="190.12" r="0.95"/>
<circle cx="163.44" cy="189.97" r="0.95"/>
<circle cx="194.16" cy="191.28" r="0.95"/>
<circle cx="180.7" cy="197.1" r="0.95"/>
<circle cx="192.81" cy="183.16" r="0.95"/>
<circle cx="190.29" cy="192.52" r="0.95"/>
<circle cx="171.41" cy="192.3" r="0.95"/>
<circle cx="190.21" cy="190.84" r="0.95"/>
<circle cx="207.43" cy="193.96" r="0.95"/>
<circle cx="191.31" cy="189.85" r="0.95"/>
<circle cx="183.69" cy="194.21" r="0.95"/>
<circle cx="166.14" cy="203.32" r="0.95"/>
<circle cx="198.6" cy="193.85" r="0.95"/>
<circle cx="193.13" cy="186.12" r="0.95"/>
<circle cx="207.42" cy="189.3" r="0.95"/>
<circle cx="178.07" cy="198.89" r="0.95"/>
<circle cx="181.6" cy="199.85" r="0.95"/>
<circle cx="178.02" cy="195.58" r="0.95"/>
<circle cx="208.19" cy="193.76" r="0.95"/>
<circle cx="200.8" cy="197.14" r="0.95"/>
<circle cx="176.95" cy="199.25" r="0.95"/>
<circle cx="194.17" cy="194.14" r="0.95"/>
<circle cx="189.47" cy="192.92" r="0.95"/>
<circle cx="184.53" cy="206.67" r="0.95"/>
<circle cx="200.38" cy="206.67" r="0.95"/>
<circle cx="187.61" cy="206.67" r="0.95"/>
<circle cx="189.92" cy="206.67" r="0.95"/>
<circle cx="187.56" cy="203.7" r="0.95"/>
<circle cx="184.93" cy="203.7" r="0.95"/>
<circle cx="180.06" cy="206.67" r="0.95"/>
<circle cx="184.09" cy="203.7" r="0.95"/>
<circle cx="187.6" cy="203.7" r="0.95"/>
<circle cx="175.93" cy="206.67" r="0.95"/>
<circle cx="193.91" cy="206.67" r="0.95"/>
<circle cx="179.1" cy="206.67" r="0.95"/>
<circle cx="198.62" cy="203.7" r="0.95"/>
<circle cx="175.77" cy="203.7" r="0.95"/>
<circle cx="182.64" cy="206.67" r="0.95"/>
<circle cx="184.82" cy="206.67" r="0.95"/>
<circle cx="186.94" cy="206.67" r="0.95"/>
<circle cx="186.72" cy="206.67" r="0.95"/>
<circle cx="183.94" cy="206.67" r="0.95"/>
<circle cx="186.55" cy="203.7" r="0.95"/>
<circle cx="177.07" cy="203.7" r="0.95"/>
<circle cx="195.77" cy="206.67" r="0.95"/>
<circle cx="186.87" cy="203.7" r="0.95"/>
<circle cx="180.14" cy="206.67" r="0.95"/>
<circle cx="178.99" cy="203.7" r="0.95"/>
<circle cx="209.97" cy="188.34" r="0.95"/>
<circle cx="202.55" cy="179.69" r="0.95"/>
<circle cx="206.45" cy="191.56" r="0.95"/>
<circle cx="206.3" cy="192.37" r="0.95"/>
<circle cx="202.5" cy="190.7" r="0.95"/>
<circle cx="203.71" cy="193.98" r="0.95"/>
<circle cx="203.29" cy="193.17" r="0.95"/>
<circle cx="205.94" cy="179.36" r="0.95"/>
<circle cx="207.54" cy="179.25" r="0.95"/>
<circle cx="203.56" cy="187.56" r="0.95"/>
<circle cx="208.38" cy="183.56" r="0.95"/>
<circle cx="202.95" cy="182.7" r="0.95"/>
<circle cx="205.82" cy="186.46" r="0.95"/>
<circle cx="202.05" cy="184.94" r="0.95"/>
<circle cx="203.54" cy="188.87" r="0.95"/>
<circle cx="209.76" cy="181.81" r="0.95"/>
<circle cx="205.61" cy="192.73" r="0.95"/>
<circle cx="208.36" cy="188.87" r="0.95"/>
<circle cx="150.99" cy="157.78" r="0.95"/>
<circle cx="161.42" cy="154.52" r="0.95"/>
<circle cx="173.05" cy="151.56" r="0.95"/>
<circle cx="180.2" cy="157.48" r="0.95"/>
<circle cx="181.99" cy="155.41" r="0.95"/>
<circle cx="168.87" cy="165.19" r="0.95"/>
<circle cx="193.92" cy="162.22" r="0.95"/>
<circle cx="205.84" cy="165.19" r="0.95"/>
<circle cx="150.99" cy="200.74" r="0.95"/>
<circle cx="152.18" cy="203.7" r="0.95"/>
<circle cx="158.14" cy="182.96" r="0.95"/>
<circle cx="159.93" cy="208.44" r="0.95"/>
<circle cx="165.89" cy="191.85" r="0.95"/>
<circle cx="174.84" cy="177.04" r="0.95"/>
<circle cx="183.78" cy="184.74" r="0.95"/>
</g>
<line x1="148.6" y1="196.83" x2="213" y2="190.43" stroke="#3b8bcc" stroke-width="0.95" clip-path="url(#c11)"/>
<rect x="148.6" y="148" width="64.4" height="64" fill="none" stroke="#333" stroke-width="0.7"/>
<line x1="146.4" y1="209.63" x2="148.6" y2="209.63" stroke="#333" stroke-width="0.6"/>
<text transform="translate(141.9,209.63) rotate(-90)" class="tk" font-size="5.0" text-anchor="middle" fill="#1a1a1a">0.0</text>
<line x1="146.4" y1="197.78" x2="148.6" y2="197.78" stroke="#333" stroke-width="0.6"/>
<text transform="translate(141.9,197.78) rotate(-90)" class="tk" font-size="5.0" text-anchor="middle" fill="#1a1a1a">0.2</text>
<line x1="146.4" y1="185.93" x2="148.6" y2="185.93" stroke="#333" stroke-width="0.6"/>
<text transform="translate(141.9,185.93) rotate(-90)" class="tk" font-size="5.0" text-anchor="middle" fill="#1a1a1a">0.4</text>
<line x1="146.4" y1="174.07" x2="148.6" y2="174.07" stroke="#333" stroke-width="0.6"/>
<text transform="translate(141.9,174.07) rotate(-90)" class="tk" font-size="5.0" text-anchor="middle" fill="#1a1a1a">0.6</text>
<line x1="146.4" y1="162.22" x2="148.6" y2="162.22" stroke="#333" stroke-width="0.6"/>
<text transform="translate(141.9,162.22) rotate(-90)" class="tk" font-size="5.0" text-anchor="middle" fill="#1a1a1a">0.8</text>
<line x1="146.4" y1="150.37" x2="148.6" y2="150.37" stroke="#333" stroke-width="0.6"/>
<text transform="translate(141.9,150.37) rotate(-90)" class="tk" font-size="5.0" text-anchor="middle" fill="#1a1a1a">1.0</text>
<line x1="150.99" y1="212" x2="150.99" y2="214.2" stroke="#333" stroke-width="0.6"/>
<text x="150.99" y="222" class="tk" font-size="5.0" text-anchor="middle" fill="#1a1a1a">0</text>
<line x1="162.91" y1="212" x2="162.91" y2="214.2" stroke="#333" stroke-width="0.6"/>
<text x="162.91" y="222" class="tk" font-size="5.0" text-anchor="middle" fill="#1a1a1a">20</text>
<line x1="174.84" y1="212" x2="174.84" y2="214.2" stroke="#333" stroke-width="0.6"/>
<text x="174.84" y="222" class="tk" font-size="5.0" text-anchor="middle" fill="#1a1a1a">40</text>
<line x1="186.76" y1="212" x2="186.76" y2="214.2" stroke="#333" stroke-width="0.6"/>
<text x="186.76" y="222" class="tk" font-size="5.0" text-anchor="middle" fill="#1a1a1a">60</text>
<line x1="198.69" y1="212" x2="198.69" y2="214.2" stroke="#333" stroke-width="0.6"/>
<text x="198.69" y="222" class="tk" font-size="5.0" text-anchor="middle" fill="#1a1a1a">80</text>
<line x1="210.61" y1="212" x2="210.61" y2="214.2" stroke="#333" stroke-width="0.6"/>
<text x="210.61" y="222" class="tk" font-size="5.0" text-anchor="middle" fill="#1a1a1a">100</text>
<text x="180.8" y="228.9" font-size="6.3" text-anchor="middle" fill="#1a1a1a">Age</text>
<text transform="translate(133.9,180) rotate(-90)" font-size="6.45" text-anchor="middle" fill="#1a1a1a">DNA methylation</text>
<text x="280.6" y="128.5" font-size="6.85" text-anchor="middle" fill="#1a1a1a">AIM2_CpG_7</text>
<text x="280.6" y="137.9" class="it" font-size="6.4" font-style="italic" text-anchor="middle" fill="#1a1a1a">R=−0.12, p-value=0.03</text>
<text x="280.6" y="144.7" class="it" font-size="6.4" font-style="italic" text-anchor="middle" fill="#1a1a1a">y=0.35−0.00095x</text>
<clipPath id="c21"><rect x="248.4" y="148" width="64.4" height="64"/></clipPath>
<g fill="#2a2a2a" stroke="none" clip-path="url(#c21)">
<circle cx="275.46" cy="187.88" r="0.95"/>
<circle cx="281.8" cy="189.01" r="0.95"/>
<circle cx="284" cy="186.86" r="0.95"/>
<circle cx="274.35" cy="188.41" r="0.95"/>
<circle cx="289.07" cy="190" r="0.95"/>
<circle cx="264.08" cy="182.14" r="0.95"/>
<circle cx="291.49" cy="206.53" r="0.95"/>
<circle cx="272.97" cy="180.87" r="0.95"/>
<circle cx="281.21" cy="192.31" r="0.95"/>
<circle cx="275.71" cy="187.08" r="0.95"/>
<circle cx="285.98" cy="197.2" r="0.95"/>
<circle cx="276.94" cy="197.05" r="0.95"/>
<circle cx="285.17" cy="193.54" r="0.95"/>
<circle cx="267.24" cy="192.06" r="0.95"/>
<circle cx="288.48" cy="189.82" r="0.95"/>
<circle cx="263.97" cy="196.6" r="0.95"/>
<circle cx="296.35" cy="204.28" r="0.95"/>
<circle cx="276.17" cy="196.12" r="0.95"/>
<circle cx="287.88" cy="192.3" r="0.95"/>
<circle cx="300.9" cy="174.38" r="0.95"/>
<circle cx="300.69" cy="200.5" r="0.95"/>
<circle cx="282.1" cy="195.07" r="0.95"/>
<circle cx="300.06" cy="208.46" r="0.95"/>
<circle cx="288.19" cy="191.85" r="0.95"/>
<circle cx="278.19" cy="192.62" r="0.95"/>
<circle cx="281.93" cy="192.72" r="0.95"/>
<circle cx="270.48" cy="203.88" r="0.95"/>
<circle cx="280.64" cy="194.98" r="0.95"/>
<circle cx="289.6" cy="196.05" r="0.95"/>
<circle cx="289.19" cy="184.28" r="0.95"/>
<circle cx="301.53" cy="198.96" r="0.95"/>
<circle cx="294.72" cy="188.87" r="0.95"/>
<circle cx="281.03" cy="206.38" r="0.95"/>
<circle cx="280.27" cy="185.51" r="0.95"/>
<circle cx="299.26" cy="196.74" r="0.95"/>
<circle cx="271.89" cy="180.46" r="0.95"/>
<circle cx="286.52" cy="203.2" r="0.95"/>
<circle cx="290.71" cy="199.29" r="0.95"/>
<circle cx="284.98" cy="195.38" r="0.95"/>
<circle cx="275.15" cy="194.48" r="0.95"/>
<circle cx="304.31" cy="193.08" r="0.95"/>
<circle cx="273.46" cy="188.75" r="0.95"/>
<circle cx="294.28" cy="192.86" r="0.95"/>
<circle cx="285.38" cy="192.2" r="0.95"/>
<circle cx="278.6" cy="185.69" r="0.95"/>
<circle cx="302.72" cy="202.77" r="0.95"/>
<circle cx="289.27" cy="202.39" r="0.95"/>
<circle cx="308.28" cy="193.76" r="0.95"/>
<circle cx="305.03" cy="197.32" r="0.95"/>
<circle cx="272.07" cy="186.69" r="0.95"/>
<circle cx="294.97" cy="197.07" r="0.95"/>
<circle cx="290.53" cy="193.38" r="0.95"/>
<circle cx="291.61" cy="201.34" r="0.95"/>
<circle cx="303.33" cy="191.01" r="0.95"/>
<circle cx="294.72" cy="187.76" r="0.95"/>
<circle cx="302.2" cy="194.83" r="0.95"/>
<circle cx="302.19" cy="194.67" r="0.95"/>
<circle cx="278.94" cy="187.84" r="0.95"/>
<circle cx="300.94" cy="194.88" r="0.95"/>
<circle cx="296.06" cy="195.94" r="0.95"/>
<circle cx="271.39" cy="187.65" r="0.95"/>
<circle cx="305.58" cy="196.7" r="0.95"/>
<circle cx="301.16" cy="201.23" r="0.95"/>
<circle cx="301.82" cy="191.27" r="0.95"/>
<circle cx="273.74" cy="195.33" r="0.95"/>
<circle cx="292.24" cy="189.32" r="0.95"/>
<circle cx="285.53" cy="188.05" r="0.95"/>
<circle cx="285.2" cy="188.9" r="0.95"/>
<circle cx="300.78" cy="197.74" r="0.95"/>
<circle cx="307.41" cy="204.11" r="0.95"/>
<circle cx="266.72" cy="188.43" r="0.95"/>
<circle cx="285.34" cy="189.12" r="0.95"/>
<circle cx="304.3" cy="189.5" r="0.95"/>
<circle cx="284.97" cy="182.62" r="0.95"/>
<circle cx="285.52" cy="192.25" r="0.95"/>
<circle cx="283.55" cy="190.26" r="0.95"/>
<circle cx="279.78" cy="188.9" r="0.95"/>
<circle cx="288.53" cy="192.31" r="0.95"/>
<circle cx="276.14" cy="199.16" r="0.95"/>
<circle cx="291.53" cy="183.54" r="0.95"/>
<circle cx="290.46" cy="186.95" r="0.95"/>
<circle cx="296.91" cy="185.57" r="0.95"/>
<circle cx="268.78" cy="186.2" r="0.95"/>
<circle cx="308.8" cy="209.63" r="0.95"/>
<circle cx="291.8" cy="193.69" r="0.95"/>
<circle cx="298.72" cy="199.44" r="0.95"/>
<circle cx="272.39" cy="193.23" r="0.95"/>
<circle cx="281.66" cy="192.67" r="0.95"/>
<circle cx="294.36" cy="182.14" r="0.95"/>
<circle cx="276.14" cy="187.37" r="0.95"/>
<circle cx="274.6" cy="202.27" r="0.95"/>
<circle cx="288.22" cy="194.9" r="0.95"/>
<circle cx="279.73" cy="196.45" r="0.95"/>
<circle cx="303.05" cy="204.73" r="0.95"/>
<circle cx="282.53" cy="197.06" r="0.95"/>
<circle cx="292.95" cy="201.52" r="0.95"/>
<circle cx="297.71" cy="189.97" r="0.95"/>
<circle cx="289.06" cy="186.72" r="0.95"/>
<circle cx="283.75" cy="183.96" r="0.95"/>
<circle cx="295.53" cy="195.95" r="0.95"/>
<circle cx="288.31" cy="195.21" r="0.95"/>
<circle cx="306.88" cy="192.09" r="0.95"/>
<circle cx="289.2" cy="189.79" r="0.95"/>
<circle cx="279.28" cy="203.43" r="0.95"/>
<circle cx="292.54" cy="185.48" r="0.95"/>
<circle cx="289.88" cy="199.04" r="0.95"/>
<circle cx="276.04" cy="188.04" r="0.95"/>
<circle cx="287.1" cy="202.12" r="0.95"/>
<circle cx="297.64" cy="191.18" r="0.95"/>
<circle cx="304.07" cy="198.04" r="0.95"/>
<circle cx="284.12" cy="203.13" r="0.95"/>
<circle cx="284.9" cy="196.36" r="0.95"/>
<circle cx="282.76" cy="190.88" r="0.95"/>
<circle cx="275.97" cy="198.1" r="0.95"/>
<circle cx="276.98" cy="188.34" r="0.95"/>
<circle cx="279.16" cy="189.41" r="0.95"/>
<circle cx="292.26" cy="194.06" r="0.95"/>
<circle cx="278.28" cy="196.91" r="0.95"/>
<circle cx="280.05" cy="196.61" r="0.95"/>
<circle cx="297.36" cy="198.16" r="0.95"/>
<circle cx="273.23" cy="190.65" r="0.95"/>
<circle cx="272.76" cy="198.4" r="0.95"/>
<circle cx="291.48" cy="193.79" r="0.95"/>
<circle cx="293.51" cy="184.24" r="0.95"/>
<circle cx="266.19" cy="189.95" r="0.95"/>
<circle cx="306.22" cy="189.7" r="0.95"/>
<circle cx="306.71" cy="201.69" r="0.95"/>
<circle cx="264.16" cy="186.33" r="0.95"/>
<circle cx="285.84" cy="191.93" r="0.95"/>
<circle cx="292.59" cy="193.44" r="0.95"/>
<circle cx="291.44" cy="167.47" r="0.95"/>
<circle cx="292.65" cy="204.04" r="0.95"/>
<circle cx="276.02" cy="193.24" r="0.95"/>
<circle cx="293.23" cy="202.71" r="0.95"/>
<circle cx="295.45" cy="201.55" r="0.95"/>
<circle cx="291.49" cy="201.16" r="0.95"/>
<circle cx="279.07" cy="199.46" r="0.95"/>
<circle cx="296.09" cy="192.1" r="0.95"/>
<circle cx="268.1" cy="187.83" r="0.95"/>
<circle cx="302.93" cy="176.49" r="0.95"/>
<circle cx="281.74" cy="204.6" r="0.95"/>
<circle cx="263.44" cy="193.03" r="0.95"/>
<circle cx="273.47" cy="193.33" r="0.95"/>
<circle cx="305.26" cy="202.67" r="0.95"/>
<circle cx="305.1" cy="184.54" r="0.95"/>
<circle cx="291.4" cy="197.49" r="0.95"/>
<circle cx="291.93" cy="193.98" r="0.95"/>
<circle cx="274.11" cy="185.13" r="0.95"/>
<circle cx="291.31" cy="190.14" r="0.95"/>
<circle cx="272.88" cy="196.72" r="0.95"/>
<circle cx="296.02" cy="197.63" r="0.95"/>
<circle cx="294.93" cy="200.01" r="0.95"/>
<circle cx="282.52" cy="193.71" r="0.95"/>
<circle cx="302.16" cy="192.85" r="0.95"/>
<circle cx="287.28" cy="191.19" r="0.95"/>
<circle cx="274.08" cy="190.46" r="0.95"/>
<circle cx="304.72" cy="198.28" r="0.95"/>
<circle cx="276.59" cy="195.24" r="0.95"/>
<circle cx="287.1" cy="179.49" r="0.95"/>
<circle cx="288.82" cy="196.4" r="0.95"/>
<circle cx="267.55" cy="184.36" r="0.95"/>
<circle cx="285.4" cy="196.1" r="0.95"/>
<circle cx="290.12" cy="195.27" r="0.95"/>
<circle cx="279.79" cy="193.83" r="0.95"/>
<circle cx="298.64" cy="194.05" r="0.95"/>
<circle cx="283.22" cy="184.42" r="0.95"/>
<circle cx="274.95" cy="192.43" r="0.95"/>
<circle cx="284.32" cy="183.08" r="0.95"/>
<circle cx="276.68" cy="184.01" r="0.95"/>
<circle cx="285.06" cy="190.94" r="0.95"/>
<circle cx="293.95" cy="195.85" r="0.95"/>
<circle cx="265.74" cy="191.19" r="0.95"/>
<circle cx="272.62" cy="189.16" r="0.95"/>
<circle cx="280.35" cy="189.98" r="0.95"/>
<circle cx="278.28" cy="193.49" r="0.95"/>
<circle cx="297.99" cy="195.09" r="0.95"/>
<circle cx="281.34" cy="194.46" r="0.95"/>
<circle cx="268.1" cy="190.48" r="0.95"/>
<circle cx="288.14" cy="195.52" r="0.95"/>
<circle cx="282.07" cy="189.09" r="0.95"/>
<circle cx="285.83" cy="185.88" r="0.95"/>
<circle cx="265.9" cy="191.6" r="0.95"/>
<circle cx="280.94" cy="202.36" r="0.95"/>
<circle cx="272.9" cy="186.48" r="0.95"/>
<circle cx="277.8" cy="189.87" r="0.95"/>
<circle cx="275.18" cy="188.81" r="0.95"/>
<circle cx="281.48" cy="195.57" r="0.95"/>
<circle cx="288.79" cy="199.43" r="0.95"/>
<circle cx="277.35" cy="190.36" r="0.95"/>
<circle cx="274.52" cy="194.88" r="0.95"/>
<circle cx="283.19" cy="184.74" r="0.95"/>
<circle cx="280.53" cy="191.73" r="0.95"/>
<circle cx="266.17" cy="198.61" r="0.95"/>
<circle cx="280.58" cy="196.32" r="0.95"/>
<circle cx="298.74" cy="185.9" r="0.95"/>
<circle cx="295.98" cy="191.24" r="0.95"/>
<circle cx="291.23" cy="193.26" r="0.95"/>
<circle cx="290.67" cy="199.32" r="0.95"/>
<circle cx="281.46" cy="193.51" r="0.95"/>
<circle cx="289.28" cy="196.3" r="0.95"/>
<circle cx="274.46" cy="184.93" r="0.95"/>
<circle cx="296.91" cy="193.73" r="0.95"/>
<circle cx="279.23" cy="199.2" r="0.95"/>
<circle cx="299.85" cy="195.58" r="0.95"/>
<circle cx="299.24" cy="196.26" r="0.95"/>
<circle cx="301.96" cy="194.83" r="0.95"/>
<circle cx="261.52" cy="190.39" r="0.95"/>
<circle cx="272" cy="197.22" r="0.95"/>
<circle cx="293.05" cy="184.11" r="0.95"/>
<circle cx="271.81" cy="188.08" r="0.95"/>
<circle cx="273.82" cy="185.71" r="0.95"/>
<circle cx="287.04" cy="201.2" r="0.95"/>
<circle cx="286.96" cy="198.53" r="0.95"/>
<circle cx="284.21" cy="184.16" r="0.95"/>
<circle cx="283.69" cy="197.24" r="0.95"/>
<circle cx="277.32" cy="181.73" r="0.95"/>
<circle cx="294.97" cy="192.27" r="0.95"/>
<circle cx="285.35" cy="207.65" r="0.95"/>
<circle cx="262.3" cy="191.6" r="0.95"/>
<circle cx="264.32" cy="191.09" r="0.95"/>
<circle cx="288.31" cy="184.99" r="0.95"/>
<circle cx="274.18" cy="197.19" r="0.95"/>
<circle cx="286.91" cy="192.42" r="0.95"/>
<circle cx="266.2" cy="188.98" r="0.95"/>
<circle cx="289.86" cy="195.33" r="0.95"/>
<circle cx="290.47" cy="193.92" r="0.95"/>
<circle cx="272.78" cy="195.89" r="0.95"/>
<circle cx="295.65" cy="191.9" r="0.95"/>
<circle cx="268.45" cy="195.84" r="0.95"/>
<circle cx="277.09" cy="193.1" r="0.95"/>
<circle cx="298.74" cy="195.94" r="0.95"/>
<circle cx="291.06" cy="204.51" r="0.95"/>
<circle cx="301.47" cy="189.83" r="0.95"/>
<circle cx="309.22" cy="193.26" r="0.95"/>
<circle cx="300.09" cy="197.63" r="0.95"/>
<circle cx="302.53" cy="206.28" r="0.95"/>
<circle cx="292.59" cy="198.22" r="0.95"/>
<circle cx="281" cy="196.41" r="0.95"/>
<circle cx="284.79" cy="180.8" r="0.95"/>
<circle cx="292.54" cy="198.7" r="0.95"/>
<circle cx="281.77" cy="193.98" r="0.95"/>
<circle cx="289.78" cy="190.07" r="0.95"/>
<circle cx="285.18" cy="196.6" r="0.95"/>
<circle cx="280.48" cy="189.5" r="0.95"/>
<circle cx="301.89" cy="198.84" r="0.95"/>
<circle cx="264.39" cy="184.84" r="0.95"/>
<circle cx="273.05" cy="189.46" r="0.95"/>
<circle cx="283.04" cy="197.72" r="0.95"/>
<circle cx="261.52" cy="188.04" r="0.95"/>
<circle cx="287.45" cy="196.31" r="0.95"/>
<circle cx="289.41" cy="193.66" r="0.95"/>
<circle cx="282.26" cy="169.52" r="0.95"/>
<circle cx="293.41" cy="179.48" r="0.95"/>
<circle cx="289.58" cy="192.67" r="0.95"/>
<circle cx="279.67" cy="189.89" r="0.95"/>
<circle cx="287.05" cy="195.94" r="0.95"/>
<circle cx="276.23" cy="198.26" r="0.95"/>
<circle cx="288.29" cy="180.17" r="0.95"/>
<circle cx="265.01" cy="182.63" r="0.95"/>
<circle cx="299.48" cy="205.89" r="0.95"/>
<circle cx="298.94" cy="199.29" r="0.95"/>
<circle cx="308.11" cy="187.95" r="0.95"/>
<circle cx="268.05" cy="183.88" r="0.95"/>
<circle cx="293.77" cy="183.69" r="0.95"/>
<circle cx="305.87" cy="195.75" r="0.95"/>
<circle cx="266.06" cy="182.32" r="0.95"/>
<circle cx="291.06" cy="199.75" r="0.95"/>
<circle cx="289.95" cy="196.1" r="0.95"/>
<circle cx="283.18" cy="191.99" r="0.95"/>
<circle cx="282.78" cy="185.15" r="0.95"/>
<circle cx="293.67" cy="195.48" r="0.95"/>
<circle cx="287.23" cy="200.24" r="0.95"/>
<circle cx="277.79" cy="194.06" r="0.95"/>
<circle cx="272.38" cy="202.37" r="0.95"/>
<circle cx="284.78" cy="193.47" r="0.95"/>
<circle cx="270.12" cy="189.59" r="0.95"/>
<circle cx="307.68" cy="198.97" r="0.95"/>
<circle cx="289.76" cy="191.29" r="0.95"/>
<circle cx="280.75" cy="182.73" r="0.95"/>
<circle cx="280.46" cy="196.42" r="0.95"/>
<circle cx="285.74" cy="192.99" r="0.95"/>
<circle cx="297.79" cy="193.55" r="0.95"/>
<circle cx="277.04" cy="183.13" r="0.95"/>
<circle cx="292.5" cy="202.47" r="0.95"/>
<circle cx="305.98" cy="190.83" r="0.95"/>
<circle cx="304.58" cy="191.06" r="0.95"/>
<circle cx="297.98" cy="197.05" r="0.95"/>
<circle cx="285.9" cy="183.59" r="0.95"/>
<circle cx="293.29" cy="189.97" r="0.95"/>
<circle cx="295.26" cy="180.24" r="0.95"/>
<circle cx="268.14" cy="193.53" r="0.95"/>
<circle cx="307.39" cy="199.69" r="0.95"/>
<circle cx="294.66" cy="199.94" r="0.95"/>
<circle cx="301.52" cy="198.63" r="0.95"/>
<circle cx="291.8" cy="192.02" r="0.95"/>
<circle cx="273" cy="191.53" r="0.95"/>
<circle cx="289.56" cy="189.03" r="0.95"/>
<circle cx="301.29" cy="192.51" r="0.95"/>
<circle cx="274.46" cy="182.38" r="0.95"/>
<circle cx="289.32" cy="196.57" r="0.95"/>
<circle cx="286.56" cy="150.37" r="0.95"/>
<circle cx="291.33" cy="150.37" r="0.95"/>
<circle cx="250.79" cy="174.07" r="0.95"/>
<circle cx="250.79" cy="177.04" r="0.95"/>
<circle cx="251.38" cy="180" r="0.95"/>
<circle cx="262.71" cy="209.63" r="0.95"/>
<circle cx="269.87" cy="209.63" r="0.95"/>
<circle cx="274.64" cy="209.63" r="0.95"/>
<circle cx="275.83" cy="209.63" r="0.95"/>
<circle cx="277.62" cy="209.63" r="0.95"/>
<circle cx="285.37" cy="209.63" r="0.95"/>
<circle cx="289.54" cy="209.63" r="0.95"/>
<circle cx="301.47" cy="209.63" r="0.95"/>
</g>
<line x1="248.4" y1="188.66" x2="312.8" y2="194.74" stroke="#3b8bcc" stroke-width="0.95" clip-path="url(#c21)"/>
<rect x="248.4" y="148" width="64.4" height="64" fill="none" stroke="#333" stroke-width="0.7"/>
<line x1="246.2" y1="209.63" x2="248.4" y2="209.63" stroke="#333" stroke-width="0.6"/>
<text transform="translate(241.7,209.63) rotate(-90)" class="tk" font-size="5.0" text-anchor="middle" fill="#1a1a1a">0.0</text>
<line x1="246.2" y1="197.78" x2="248.4" y2="197.78" stroke="#333" stroke-width="0.6"/>
<text transform="translate(241.7,197.78) rotate(-90)" class="tk" font-size="5.0" text-anchor="middle" fill="#1a1a1a">0.2</text>
<line x1="246.2" y1="185.93" x2="248.4" y2="185.93" stroke="#333" stroke-width="0.6"/>
<text transform="translate(241.7,185.93) rotate(-90)" class="tk" font-size="5.0" text-anchor="middle" fill="#1a1a1a">0.4</text>
<line x1="246.2" y1="174.07" x2="248.4" y2="174.07" stroke="#333" stroke-width="0.6"/>
<text transform="translate(241.7,174.07) rotate(-90)" class="tk" font-size="5.0" text-anchor="middle" fill="#1a1a1a">0.6</text>
<line x1="246.2" y1="162.22" x2="248.4" y2="162.22" stroke="#333" stroke-width="0.6"/>
<text transform="translate(241.7,162.22) rotate(-90)" class="tk" font-size="5.0" text-anchor="middle" fill="#1a1a1a">0.8</text>
<line x1="246.2" y1="150.37" x2="248.4" y2="150.37" stroke="#333" stroke-width="0.6"/>
<text transform="translate(241.7,150.37) rotate(-90)" class="tk" font-size="5.0" text-anchor="middle" fill="#1a1a1a">1.0</text>
<line x1="250.79" y1="212" x2="250.79" y2="214.2" stroke="#333" stroke-width="0.6"/>
<text x="250.79" y="222" class="tk" font-size="5.0" text-anchor="middle" fill="#1a1a1a">0</text>
<line x1="262.71" y1="212" x2="262.71" y2="214.2" stroke="#333" stroke-width="0.6"/>
<text x="262.71" y="222" class="tk" font-size="5.0" text-anchor="middle" fill="#1a1a1a">20</text>
<line x1="274.64" y1="212" x2="274.64" y2="214.2" stroke="#333" stroke-width="0.6"/>
<text x="274.64" y="222" class="tk" font-size="5.0" text-anchor="middle" fill="#1a1a1a">40</text>
<line x1="286.56" y1="212" x2="286.56" y2="214.2" stroke="#333" stroke-width="0.6"/>
<text x="286.56" y="222" class="tk" font-size="5.0" text-anchor="middle" fill="#1a1a1a">60</text>
<line x1="298.49" y1="212" x2="298.49" y2="214.2" stroke="#333" stroke-width="0.6"/>
<text x="298.49" y="222" class="tk" font-size="5.0" text-anchor="middle" fill="#1a1a1a">80</text>
<line x1="310.41" y1="212" x2="310.41" y2="214.2" stroke="#333" stroke-width="0.6"/>
<text x="310.41" y="222" class="tk" font-size="5.0" text-anchor="middle" fill="#1a1a1a">100</text>
<text x="280.6" y="228.9" font-size="6.3" text-anchor="middle" fill="#1a1a1a">Age</text>
<text transform="translate(233.7,180) rotate(-90)" font-size="6.45" text-anchor="middle" fill="#1a1a1a">DNA methylation</text>
<clipPath id="cB"><rect x="369.5" y="26.7" width="174.1" height="158.9"/></clipPath>
<g fill="none" stroke="#111" stroke-width="0.8" clip-path="url(#cB)">
<circle cx="407.78" cy="154.74" r="1.55"/>
<circle cx="410.49" cy="145.24" r="1.55"/>
<circle cx="406.4" cy="152.08" r="1.55"/>
<circle cx="408.85" cy="138.73" r="1.55"/>
<circle cx="403.53" cy="142.38" r="1.55"/>
<circle cx="403.64" cy="144.19" r="1.55"/>
<circle cx="411.83" cy="132.87" r="1.55"/>
<circle cx="403.63" cy="157.17" r="1.55"/>
<circle cx="403.12" cy="154.48" r="1.55"/>
<circle cx="407.38" cy="151.3" r="1.55"/>
<circle cx="410.93" cy="139.71" r="1.55"/>
<circle cx="406.72" cy="140.55" r="1.55"/>
<circle cx="410.07" cy="135.4" r="1.55"/>
<circle cx="406.08" cy="138.53" r="1.55"/>
<circle cx="415.63" cy="128.23" r="1.55"/>
<circle cx="412.49" cy="151.21" r="1.55"/>
<circle cx="424.32" cy="130.54" r="1.55"/>
<circle cx="425.55" cy="118.89" r="1.55"/>
<circle cx="419.12" cy="128.39" r="1.55"/>
<circle cx="421.22" cy="133.72" r="1.55"/>
<circle cx="426.83" cy="135.18" r="1.55"/>
<circle cx="419.09" cy="127.8" r="1.55"/>
<circle cx="426.82" cy="140.22" r="1.55"/>
<circle cx="424.06" cy="135.25" r="1.55"/>
<circle cx="422.86" cy="127.54" r="1.55"/>
<circle cx="422.97" cy="121.02" r="1.55"/>
<circle cx="429.64" cy="117.41" r="1.55"/>
<circle cx="419.04" cy="133.91" r="1.55"/>
<circle cx="420.53" cy="142.54" r="1.55"/>
<circle cx="418" cy="136.29" r="1.55"/>
<circle cx="427.88" cy="139.83" r="1.55"/>
<circle cx="418.07" cy="123.18" r="1.55"/>
<circle cx="421" cy="130.19" r="1.55"/>
<circle cx="427.97" cy="120.62" r="1.55"/>
<circle cx="429.26" cy="124.94" r="1.55"/>
<circle cx="427.9" cy="137.39" r="1.55"/>
<circle cx="417.18" cy="148.17" r="1.55"/>
<circle cx="418.94" cy="133.43" r="1.55"/>
<circle cx="422.72" cy="134.43" r="1.55"/>
<circle cx="422.47" cy="132.84" r="1.55"/>
<circle cx="426.04" cy="133.68" r="1.55"/>
<circle cx="429.58" cy="129.23" r="1.55"/>
<circle cx="434.59" cy="118.82" r="1.55"/>
<circle cx="441.61" cy="116.15" r="1.55"/>
<circle cx="437.03" cy="117.71" r="1.55"/>
<circle cx="438.47" cy="129.05" r="1.55"/>
<circle cx="438.96" cy="115.23" r="1.55"/>
<circle cx="436.8" cy="121.81" r="1.55"/>
<circle cx="430.83" cy="127.97" r="1.55"/>
<circle cx="435.16" cy="121.78" r="1.55"/>
<circle cx="441.85" cy="110.95" r="1.55"/>
<circle cx="442.81" cy="126.39" r="1.55"/>
<circle cx="437.07" cy="116.28" r="1.55"/>
<circle cx="431.14" cy="132.81" r="1.55"/>
<circle cx="435.9" cy="123.98" r="1.55"/>
<circle cx="440.45" cy="125.5" r="1.55"/>
<circle cx="441.15" cy="110.43" r="1.55"/>
<circle cx="439.14" cy="116.78" r="1.55"/>
<circle cx="440.18" cy="115.06" r="1.55"/>
<circle cx="434.35" cy="125.83" r="1.55"/>
<circle cx="434.34" cy="121.42" r="1.55"/>
<circle cx="442.29" cy="121.91" r="1.55"/>
<circle cx="442.02" cy="115.98" r="1.55"/>
<circle cx="431.3" cy="116.91" r="1.55"/>
<circle cx="441.72" cy="128.65" r="1.55"/>
<circle cx="434.12" cy="123.22" r="1.55"/>
<circle cx="432.69" cy="130.74" r="1.55"/>
<circle cx="437.96" cy="124.41" r="1.55"/>
<circle cx="442.77" cy="122.87" r="1.55"/>
<circle cx="436.15" cy="119.36" r="1.55"/>
<circle cx="434.38" cy="135.21" r="1.55"/>
<circle cx="439.81" cy="129.59" r="1.55"/>
<circle cx="432.82" cy="117.51" r="1.55"/>
<circle cx="440.89" cy="129.87" r="1.55"/>
<circle cx="435.91" cy="126.17" r="1.55"/>
<circle cx="439.84" cy="131.18" r="1.55"/>
<circle cx="430.81" cy="118.49" r="1.55"/>
<circle cx="441.32" cy="114.68" r="1.55"/>
<circle cx="453.4" cy="121.29" r="1.55"/>
<circle cx="454.52" cy="112.15" r="1.55"/>
<circle cx="449.51" cy="109.17" r="1.55"/>
<circle cx="444.11" cy="117.95" r="1.55"/>
<circle cx="448.48" cy="98.54" r="1.55"/>
<circle cx="447.29" cy="108.03" r="1.55"/>
<circle cx="456.46" cy="105.94" r="1.55"/>
<circle cx="454.71" cy="108.81" r="1.55"/>
<circle cx="443.98" cy="112.51" r="1.55"/>
<circle cx="448.15" cy="117.12" r="1.55"/>
<circle cx="456.12" cy="111.96" r="1.55"/>
<circle cx="448.93" cy="111.72" r="1.55"/>
<circle cx="454.62" cy="106.24" r="1.55"/>
<circle cx="446.97" cy="107.71" r="1.55"/>
<circle cx="446.73" cy="116.1" r="1.55"/>
<circle cx="450.92" cy="107.79" r="1.55"/>
<circle cx="452.09" cy="115.58" r="1.55"/>
<circle cx="446.89" cy="114.22" r="1.55"/>
<circle cx="448.87" cy="123.91" r="1.55"/>
<circle cx="454.23" cy="115.27" r="1.55"/>
<circle cx="451.87" cy="108" r="1.55"/>
<circle cx="454.31" cy="108.26" r="1.55"/>
<circle cx="445.21" cy="115.34" r="1.55"/>
<circle cx="445.21" cy="118.15" r="1.55"/>
<circle cx="455.66" cy="107.45" r="1.55"/>
<circle cx="448.17" cy="124.17" r="1.55"/>
<circle cx="450" cy="111.36" r="1.55"/>
<circle cx="446.03" cy="112.88" r="1.55"/>
<circle cx="444.97" cy="131.77" r="1.55"/>
<circle cx="450.41" cy="113.28" r="1.55"/>
<circle cx="447.93" cy="120.1" r="1.55"/>
<circle cx="456.29" cy="108.15" r="1.55"/>
<circle cx="452.57" cy="99.3" r="1.55"/>
<circle cx="450.52" cy="109.15" r="1.55"/>
<circle cx="448.31" cy="117.19" r="1.55"/>
<circle cx="443.72" cy="131.3" r="1.55"/>
<circle cx="455.74" cy="106.43" r="1.55"/>
<circle cx="453.35" cy="120.37" r="1.55"/>
<circle cx="455.61" cy="97.77" r="1.55"/>
<circle cx="450.37" cy="108.25" r="1.55"/>
<circle cx="444.92" cy="102.11" r="1.55"/>
<circle cx="449.9" cy="128.17" r="1.55"/>
<circle cx="448.34" cy="110.77" r="1.55"/>
<circle cx="456.1" cy="112.23" r="1.55"/>
<circle cx="444.63" cy="123.39" r="1.55"/>
<circle cx="445.49" cy="118.38" r="1.55"/>
<circle cx="448.62" cy="109.48" r="1.55"/>
<circle cx="456.31" cy="121.94" r="1.55"/>
<circle cx="445.99" cy="112.2" r="1.55"/>
<circle cx="444.76" cy="117" r="1.55"/>
<circle cx="453.77" cy="116.44" r="1.55"/>
<circle cx="443.69" cy="121.01" r="1.55"/>
<circle cx="449.23" cy="119.23" r="1.55"/>
<circle cx="444.23" cy="111.01" r="1.55"/>
<circle cx="448.85" cy="120.37" r="1.55"/>
<circle cx="457.14" cy="110.7" r="1.55"/>
<circle cx="461.51" cy="113.53" r="1.55"/>
<circle cx="464.01" cy="101.96" r="1.55"/>
<circle cx="459.75" cy="107.68" r="1.55"/>
<circle cx="458.13" cy="106.12" r="1.55"/>
<circle cx="458.52" cy="107.22" r="1.55"/>
<circle cx="463.08" cy="102.86" r="1.55"/>
<circle cx="464.91" cy="115.99" r="1.55"/>
<circle cx="460.47" cy="113.08" r="1.55"/>
<circle cx="462.36" cy="97.71" r="1.55"/>
<circle cx="459.46" cy="113.95" r="1.55"/>
<circle cx="469.68" cy="97.2" r="1.55"/>
<circle cx="463.67" cy="92.16" r="1.55"/>
<circle cx="458.26" cy="96.56" r="1.55"/>
<circle cx="457.79" cy="104.21" r="1.55"/>
<circle cx="461.57" cy="102.47" r="1.55"/>
<circle cx="467.16" cy="115.57" r="1.55"/>
<circle cx="456.9" cy="114.76" r="1.55"/>
<circle cx="458.04" cy="97.07" r="1.55"/>
<circle cx="462.15" cy="101.47" r="1.55"/>
<circle cx="466.11" cy="96.07" r="1.55"/>
<circle cx="467.02" cy="109.4" r="1.55"/>
<circle cx="457.81" cy="102.82" r="1.55"/>
<circle cx="463.06" cy="109.65" r="1.55"/>
<circle cx="463.63" cy="94.95" r="1.55"/>
<circle cx="466.68" cy="103.45" r="1.55"/>
<circle cx="461.42" cy="113.16" r="1.55"/>
<circle cx="462.82" cy="101.58" r="1.55"/>
<circle cx="462.85" cy="98.84" r="1.55"/>
<circle cx="459.33" cy="121.08" r="1.55"/>
<circle cx="459.8" cy="118.13" r="1.55"/>
<circle cx="462.12" cy="99.2" r="1.55"/>
<circle cx="456.73" cy="114.84" r="1.55"/>
<circle cx="461.91" cy="97.83" r="1.55"/>
<circle cx="462.87" cy="108.25" r="1.55"/>
<circle cx="468.07" cy="99.03" r="1.55"/>
<circle cx="459.42" cy="117.91" r="1.55"/>
<circle cx="461.23" cy="102.56" r="1.55"/>
<circle cx="458.78" cy="111.66" r="1.55"/>
<circle cx="469.05" cy="92.47" r="1.55"/>
<circle cx="468.99" cy="94.53" r="1.55"/>
<circle cx="457.76" cy="99.74" r="1.55"/>
<circle cx="468.88" cy="89.83" r="1.55"/>
<circle cx="460.9" cy="106.64" r="1.55"/>
<circle cx="469.96" cy="101.66" r="1.55"/>
<circle cx="464.06" cy="100.08" r="1.55"/>
<circle cx="465.43" cy="103.96" r="1.55"/>
<circle cx="456.69" cy="118.08" r="1.55"/>
<circle cx="462.53" cy="110.74" r="1.55"/>
<circle cx="463.94" cy="98.37" r="1.55"/>
<circle cx="466.99" cy="102.68" r="1.55"/>
<circle cx="463.65" cy="104.83" r="1.55"/>
<circle cx="466.54" cy="98.45" r="1.55"/>
<circle cx="458.57" cy="107.91" r="1.55"/>
<circle cx="469.7" cy="98.16" r="1.55"/>
<circle cx="466.82" cy="115.5" r="1.55"/>
<circle cx="456.83" cy="108.25" r="1.55"/>
<circle cx="463.64" cy="90.07" r="1.55"/>
<circle cx="460.1" cy="99.22" r="1.55"/>
<circle cx="457.56" cy="107.73" r="1.55"/>
<circle cx="462.97" cy="106.77" r="1.55"/>
<circle cx="467.3" cy="87.66" r="1.55"/>
<circle cx="466.26" cy="99.45" r="1.55"/>
<circle cx="465.07" cy="93.1" r="1.55"/>
<circle cx="467.38" cy="104.38" r="1.55"/>
<circle cx="458.28" cy="95.94" r="1.55"/>
<circle cx="457.31" cy="101.76" r="1.55"/>
<circle cx="459.15" cy="106.46" r="1.55"/>
<circle cx="459.41" cy="93.97" r="1.55"/>
<circle cx="460.77" cy="108.18" r="1.55"/>
<circle cx="475.94" cy="93.35" r="1.55"/>
<circle cx="471.48" cy="94.82" r="1.55"/>
<circle cx="470.96" cy="105.5" r="1.55"/>
<circle cx="476.63" cy="87.77" r="1.55"/>
<circle cx="478.93" cy="88.9" r="1.55"/>
<circle cx="472.09" cy="95.25" r="1.55"/>
<circle cx="479.67" cy="86.8" r="1.55"/>
<circle cx="474.47" cy="91.57" r="1.55"/>
<circle cx="474.94" cy="93.53" r="1.55"/>
<circle cx="482.56" cy="92.88" r="1.55"/>
<circle cx="473.83" cy="89.46" r="1.55"/>
<circle cx="474.72" cy="78.17" r="1.55"/>
<circle cx="482.62" cy="89.87" r="1.55"/>
<circle cx="477.94" cy="86.24" r="1.55"/>
<circle cx="473.01" cy="96.93" r="1.55"/>
<circle cx="480.94" cy="87.56" r="1.55"/>
<circle cx="480.93" cy="93.24" r="1.55"/>
<circle cx="473.57" cy="94.22" r="1.55"/>
<circle cx="476.89" cy="92.11" r="1.55"/>
<circle cx="477.48" cy="88.53" r="1.55"/>
<circle cx="472.07" cy="111.98" r="1.55"/>
<circle cx="482.22" cy="91.27" r="1.55"/>
<circle cx="472.15" cy="104.08" r="1.55"/>
<circle cx="476.25" cy="101.94" r="1.55"/>
<circle cx="470.03" cy="105.83" r="1.55"/>
<circle cx="482.98" cy="89.36" r="1.55"/>
<circle cx="483.02" cy="75.81" r="1.55"/>
<circle cx="479.79" cy="84.41" r="1.55"/>
<circle cx="482.89" cy="97.92" r="1.55"/>
<circle cx="476.3" cy="92.32" r="1.55"/>
<circle cx="477.45" cy="100.86" r="1.55"/>
<circle cx="475.97" cy="89.04" r="1.55"/>
<circle cx="471.74" cy="88.72" r="1.55"/>
<circle cx="473.53" cy="89.29" r="1.55"/>
<circle cx="470.27" cy="92.59" r="1.55"/>
<circle cx="480.79" cy="89.74" r="1.55"/>
<circle cx="477.24" cy="90.42" r="1.55"/>
<circle cx="472.6" cy="109.63" r="1.55"/>
<circle cx="482.31" cy="77.66" r="1.55"/>
<circle cx="482.9" cy="90.13" r="1.55"/>
<circle cx="477.05" cy="88.42" r="1.55"/>
<circle cx="482.99" cy="94.63" r="1.55"/>
<circle cx="477.22" cy="98.28" r="1.55"/>
<circle cx="482.78" cy="92.54" r="1.55"/>
<circle cx="474.55" cy="94.11" r="1.55"/>
<circle cx="473.69" cy="85.59" r="1.55"/>
<circle cx="472.41" cy="90.9" r="1.55"/>
<circle cx="476.95" cy="87.14" r="1.55"/>
<circle cx="475.85" cy="96.35" r="1.55"/>
<circle cx="474.69" cy="88.54" r="1.55"/>
<circle cx="476.09" cy="90.85" r="1.55"/>
<circle cx="472" cy="99.05" r="1.55"/>
<circle cx="404.16" cy="117.18" r="1.55"/>
<circle cx="414.91" cy="156.42" r="1.55"/>
<circle cx="408.19" cy="152.74" r="1.55"/>
</g>
<line x1="369.5" y1="170.94" x2="543.6" y2="43.82" stroke="#3b8bcc" stroke-width="1.3" clip-path="url(#cB)"/>
<rect x="369.5" y="26.7" width="174.1" height="158.9" fill="none" stroke="#333" stroke-width="0.8"/>
<line x1="364" y1="179.71" x2="369.5" y2="179.71" stroke="#333" stroke-width="0.7"/>
<text transform="translate(355.6,179.71) rotate(-90)" font-size="7.2" text-anchor="middle" fill="#1a1a1a">0</text>
<line x1="375.95" y1="185.6" x2="375.95" y2="190.9" stroke="#333" stroke-width="0.7"/>
<text x="375.95" y="203.8" font-size="7.2" text-anchor="middle" fill="#1a1a1a">0</text>
<line x1="364" y1="155.19" x2="369.5" y2="155.19" stroke="#333" stroke-width="0.7"/>
<text transform="translate(355.6,155.19) rotate(-90)" font-size="7.2" text-anchor="middle" fill="#1a1a1a">20</text>
<line x1="402.82" y1="185.6" x2="402.82" y2="190.9" stroke="#333" stroke-width="0.7"/>
<text x="402.82" y="203.8" font-size="7.2" text-anchor="middle" fill="#1a1a1a">20</text>
<line x1="364" y1="130.67" x2="369.5" y2="130.67" stroke="#333" stroke-width="0.7"/>
<text transform="translate(355.6,130.67) rotate(-90)" font-size="7.2" text-anchor="middle" fill="#1a1a1a">40</text>
<line x1="429.68" y1="185.6" x2="429.68" y2="190.9" stroke="#333" stroke-width="0.7"/>
<text x="429.68" y="203.8" font-size="7.2" text-anchor="middle" fill="#1a1a1a">40</text>
<line x1="364" y1="106.15" x2="369.5" y2="106.15" stroke="#333" stroke-width="0.7"/>
<text transform="translate(355.6,106.15) rotate(-90)" font-size="7.2" text-anchor="middle" fill="#1a1a1a">60</text>
<line x1="456.55" y1="185.6" x2="456.55" y2="190.9" stroke="#333" stroke-width="0.7"/>
<text x="456.55" y="203.8" font-size="7.2" text-anchor="middle" fill="#1a1a1a">60</text>
<line x1="364" y1="81.63" x2="369.5" y2="81.63" stroke="#333" stroke-width="0.7"/>
<text transform="translate(355.6,81.63) rotate(-90)" font-size="7.2" text-anchor="middle" fill="#1a1a1a">80</text>
<line x1="483.42" y1="185.6" x2="483.42" y2="190.9" stroke="#333" stroke-width="0.7"/>
<text x="483.42" y="203.8" font-size="7.2" text-anchor="middle" fill="#1a1a1a">80</text>
<line x1="364" y1="57.11" x2="369.5" y2="57.11" stroke="#333" stroke-width="0.7"/>
<text transform="translate(355.6,57.11) rotate(-90)" font-size="7.2" text-anchor="middle" fill="#1a1a1a">100</text>
<line x1="510.28" y1="185.6" x2="510.28" y2="190.9" stroke="#333" stroke-width="0.7"/>
<text x="510.28" y="203.8" font-size="7.2" text-anchor="middle" fill="#1a1a1a">100</text>
<line x1="364" y1="32.59" x2="369.5" y2="32.59" stroke="#333" stroke-width="0.7"/>
<text transform="translate(355.6,32.59) rotate(-90)" font-size="7.2" text-anchor="middle" fill="#1a1a1a">120</text>
<line x1="537.15" y1="185.6" x2="537.15" y2="190.9" stroke="#333" stroke-width="0.7"/>
<text x="537.15" y="203.8" font-size="7.2" text-anchor="middle" fill="#1a1a1a">120</text>
<text x="456.55" y="214.2" font-size="8.9" text-anchor="middle" fill="#1a1a1a">Chronological age</text>
<text transform="translate(344.5,106.15) rotate(-90)" font-size="8.3" text-anchor="middle" fill="#1a1a1a">Epigenetic age</text>
<text x="373.9" y="36.6" font-size="7.65" font-style="italic" fill="#1a1a1a">R=0.89, p-value&lt;0.001</text>
<text x="373.9" y="43.2" font-size="7.65" font-style="italic" fill="#1a1a1a">y=11+0.80x</text>
<text x="5.8" y="15.9" font-size="15.5" font-weight="bold" fill="#000">A</text>
<text x="338.2" y="15.8" font-size="15" font-weight="bold" fill="#000">B</text></svg>
</body></html>
